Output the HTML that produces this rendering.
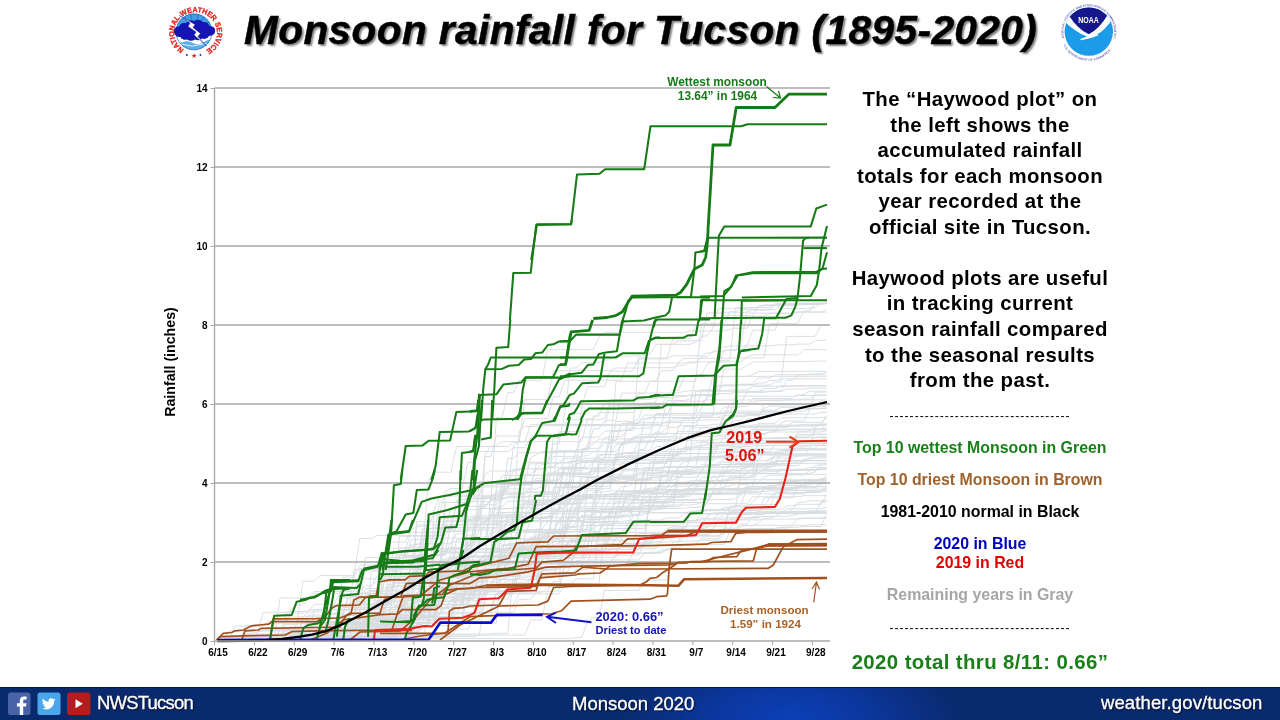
<!DOCTYPE html>
<html><head><meta charset="utf-8">
<style>
html,body{margin:0;padding:0;background:#fff;}
body{width:1280px;height:720px;position:relative;overflow:hidden;font-family:"Liberation Sans",sans-serif;}
#title{position:absolute;left:244px;top:7px;font-size:40.5px;font-weight:bold;font-style:italic;white-space:nowrap;line-height:46px;color:#000;text-shadow:2px 2px 2px rgba(0,0,0,.5);letter-spacing:.45px;-webkit-text-stroke:.5px #000;}
#footer{position:absolute;left:0;top:687px;width:1280px;height:33px;background:radial-gradient(ellipse 170px 70px at 790px 30px,#0b40b6 0%,#0b38a2 40%,#0a2a6e 100%);border-top:1px solid #061a48;box-sizing:border-box;}
.ft{position:absolute;color:#fff;font-size:18.5px;line-height:32px;top:-2px;-webkit-text-stroke:.3px #fff;white-space:nowrap;text-shadow:1px 1px 2px rgba(0,0,0,.8);}
#panel div{position:absolute;left:830px;width:300px;text-align:center;font-weight:bold;white-space:nowrap;}
.p1{font-size:20.4px;line-height:25.5px;color:#000;letter-spacing:.4px;}
.lg{font-size:15.9px;line-height:18px;}
#chart{position:absolute;left:0;top:0;}
</style></head><body>
<div id="title">Monsoon rainfall for Tucson (1895-2020)</div>
<svg id="chart" width="1280" height="687" viewBox="0 0 1280 687" font-family="Liberation Sans, sans-serif">
<g id="gray" stroke="#d7dbe0" stroke-width=".9" fill="none" stroke-linejoin="round">
<path d="M217.446 641L371.2 641L376.9 637.2L376.9 637.2L382.5 625.7L382.5 625.7L388.2 623.8L388.2 623.8L393.9 621.2L393.9 621.2L399.6 617.5L428.1 617.5L433.8 617.5L433.8 617.5L439.5 616.8L450.9 616.8L456.6 597.7L467.9 597.7L473.6 590L479.3 590L485 576.6L496.4 576.6L502.1 513.1L502.1 513.1L507.8 512.4L530.6 512.4L536.3 509.1L553.3 509.1L559 486.1L581.8 486.1L587.5 478L644.4 478L650.1 478L650.1 478L655.8 472.2L667.2 472.2L672.9 471.8L684.3 471.8L690 471.5L690 471.5L695.7 470.1L707 470.1L712.7 470L724.1 470L729.8 470L735.5 470L741.2 465.2L752.6 465.2L758.3 464.6L769.7 464.6L775.4 452.5L775.4 452.5L781.1 452.4L781.1 452.4L786.7 451.2L792.4 451.2L798.1 446.9L803.8 446.9L809.5 445.4L820.9 445.4L826.6 443L826.6 443"/>
<path d="M217.446 641L308.5 641L314.2 609.6L314.2 609.6L319.9 609.6L348.4 609.6L354.1 609.1L376.9 609.1L382.5 564.7L388.2 564.7L393.9 560.1L393.9 560.1L399.6 555.7L399.6 555.7L405.3 555.6L405.3 555.6L411 555.1L433.8 555.1L439.5 552L445.2 552L450.9 552L462.2 552L467.9 546L485 546L490.7 532.3L502.1 532.3L507.8 529.8L524.9 529.8L530.6 529.6L587.5 529.6L593.2 528.9L593.2 528.9L598.9 524.7L604.6 524.7L610.3 524.6L610.3 524.6L616 523.3L633 523.3L638.7 520.3L644.4 520.3L650.1 520.1L661.5 520.1L667.2 518L678.6 518L684.3 513.5L712.7 513.5L718.4 513.4L724.1 513.4L729.8 512.7L752.6 512.7L758.3 511.4L820.9 511.4L826.6 511.1L826.6 511.1"/>
<path d="M217.446 641L285.8 641L291.5 640.6L297.1 640.6L302.8 637.5L308.5 637.5L314.2 630.9L319.9 630.9L325.6 624.6L337 624.6L342.7 624.3L388.2 624.3L393.9 622.7L433.8 622.7L439.5 581.4L445.2 581.4L450.9 561.5L473.6 561.5L479.3 561L541.9 561L547.6 556L547.6 556L553.3 553.8L564.7 553.8L570.4 553.6L610.3 553.6L616 551.7L616 551.7L621.6 546.7L633 546.7L638.7 512.8L638.7 512.8L644.4 512.6L695.7 512.6L701.4 512.2L701.4 512.2L707 510.3L758.3 510.3L764 509.5L781.1 509.5L786.7 505.9L792.4 505.9L798.1 504.3L820.9 504.3L826.6 494.8L826.6 494.8"/>
<path d="M217.446 641L342.7 641L348.4 626.6L348.4 626.6L354.1 626.5L354.1 626.5L359.8 598.5L359.8 598.5L365.5 588.5L376.9 588.5L382.5 588.4L382.5 588.4L388.2 587.4L388.2 587.4L393.9 585.9L422.4 585.9L428.1 583.5L428.1 583.5L433.8 576L553.3 576L559 561.6L559 561.6L564.7 552.2L576.1 552.2L581.8 448.6L587.5 448.6L593.2 416L598.9 416L604.6 403.2L633 403.2L638.7 393.2L644.4 393.2L650.1 381L655.8 381L661.5 370.7L672.9 370.7L678.6 361.9L678.6 361.9L684.3 358.4L724.1 358.4L729.8 358L758.3 358L764 357.9L764 357.9L769.7 323.5L792.4 323.5L798.1 323L798.1 323L803.8 310.9L809.5 310.9L815.2 303.3L826.6 303.3"/>
<path d="M217.446 641L365.5 641L371.2 640.3L388.2 640.3L393.9 634.4L393.9 634.4L399.6 612.9L399.6 612.9L405.3 589.7L405.3 589.7L411 575.9L416.7 575.9L422.4 530.4L428.1 530.4L433.8 527.8L473.6 527.8L479.3 526.4L479.3 526.4L485 520.2L490.7 520.2L496.4 517.4L524.9 517.4L530.6 515.7L536.3 515.7L541.9 511L559 511L564.7 501.6L564.7 501.6L570.4 495.9L604.6 495.9L610.3 493.9L621.6 493.9L627.3 480.1L667.2 480.1L672.9 453.7L707 453.7L712.7 452L724.1 452L729.8 451.9L729.8 451.9L735.5 451.9L752.6 451.9L758.3 445.5L792.4 445.5L798.1 445.4L826.6 445.4"/>
<path d="M217.446 641L234.5 641L240.2 638.8L251.6 638.8L257.3 638.5L291.5 638.5L297.1 637.2L297.1 637.2L302.8 616.8L319.9 616.8L325.6 614.3L354.1 614.3L359.8 593.5L388.2 593.5L393.9 563.6L411 563.6L416.7 548.6L507.8 548.6L513.5 548.2L541.9 548.2L547.6 544.7L547.6 544.7L553.3 510.1L604.6 510.1L610.3 499.8L672.9 499.8L678.6 466.3L678.6 466.3L684.3 461.4L690 461.4L695.7 391.2L775.4 391.2L781.1 390.7L781.1 390.7L786.7 380.3L792.4 380.3L798.1 374.7L803.8 374.7L809.5 374L820.9 374L826.6 372.2L826.6 372.2"/>
<path d="M217.446 641L342.7 641L348.4 615.5L359.8 615.5L365.5 557.6L422.4 557.6L428.1 481.9L428.1 481.9L433.8 472.2L450.9 472.2L456.6 446.5L507.8 446.5L513.5 442.4L519.2 442.4L524.9 399.6L547.6 399.6L553.3 370.7L610.3 370.7L616 368L638.7 368L644.4 367.7L672.9 367.7L678.6 365.2L684.3 365.2L690 361.8L741.2 361.8L746.9 356.7L746.9 356.7L752.6 354.8L792.4 354.8L798.1 354.8L798.1 354.8L803.8 349.7L826.6 349.7"/>
<path d="M217.446 641L308.5 641L314.2 637.9L348.4 637.9L354.1 637.2L354.1 637.2L359.8 633.3L365.5 633.3L371.2 629.6L393.9 629.6L399.6 623.3L405.3 623.3L411 623.3L428.1 623.3L433.8 583.2L439.5 583.2L445.2 577.8L456.6 577.8L462.2 574.3L462.2 574.3L467.9 558.6L467.9 558.6L473.6 552L519.2 552L524.9 547.2L564.7 547.2L570.4 539.2L604.6 539.2L610.3 539.1L616 539.1L621.6 535.8L621.6 535.8L627.3 533.8L627.3 533.8L633 515.2L638.7 515.2L644.4 502.2L650.1 502.2L655.8 501.4L667.2 501.4L672.9 499.7L707 499.7L712.7 499.6L729.8 499.6L735.5 498.6L735.5 498.6L741.2 494.9L741.2 494.9L746.9 489.5L746.9 489.5L752.6 488.5L769.7 488.5L775.4 488L786.7 488L792.4 487.8L792.4 487.8L798.1 486.3L803.8 486.3L809.5 481.1L809.5 481.1L815.2 481L815.2 481L820.9 478.5L826.6 478.5"/>
<path d="M217.446 641L342.7 641L348.4 621.4L405.3 621.4L411 612.7L416.7 612.7L422.4 609.6L428.1 609.6L433.8 608.4L445.2 608.4L450.9 599.4L473.6 599.4L479.3 570.5L479.3 570.5L485 569.1L485 569.1L490.7 551.6L496.4 551.6L502.1 550.2L513.5 550.2L519.2 549.7L604.6 549.7L610.3 532.8L627.3 532.8L633 532.4L644.4 532.4L650.1 532.2L690 532.2L695.7 531L701.4 531L707 529.6L712.7 529.6L718.4 519.5L718.4 519.5L724.1 517.7L735.5 517.7L741.2 514.7L752.6 514.7L758.3 514.4L764 514.4L769.7 512.4L781.1 512.4L786.7 508.8L815.2 508.8L820.9 508.7L820.9 508.7L826.6 507.3L826.6 507.3"/>
<path d="M217.446 641L405.3 641L411 627.1L411 627.1L416.7 624.5L422.4 624.5L428.1 619.5L433.8 619.5L439.5 613.3L439.5 613.3L445.2 608.7L445.2 608.7L450.9 600L450.9 600L456.6 600L462.2 600L467.9 587.3L467.9 587.3L473.6 565L490.7 565L496.4 563.7L519.2 563.7L524.9 558.9L524.9 558.9L530.6 545.4L536.3 545.4L541.9 541.7L553.3 541.7L559 540.6L598.9 540.6L604.6 539.9L633 539.9L638.7 536.8L690 536.8L695.7 536.8L718.4 536.8L724.1 529.8L735.5 529.8L741.2 525.7L752.6 525.7L758.3 523L758.3 523L764 518.2L769.7 518.2L775.4 516.3L786.7 516.3L792.4 515.5L792.4 515.5L798.1 513.9L803.8 513.9L809.5 512.8L815.2 512.8L820.9 502L826.6 502"/>
<path d="M217.446 641L382.5 641L388.2 638.8L393.9 638.8L399.6 638.6L570.4 638.6L576.1 637.5L581.8 637.5L587.5 621.3L587.5 621.3L593.2 617.3L598.9 617.3L604.6 590.4L638.7 590.4L644.4 580.1L655.8 580.1L661.5 579.9L667.2 579.9L672.9 542.2L678.6 542.2L684.3 522.7L684.3 522.7L690 522.6L724.1 522.6L729.8 511.7L735.5 511.7L741.2 510.1L758.3 510.1L764 508.4L769.7 508.4L775.4 493L798.1 493L803.8 492.5L803.8 492.5L809.5 490.7L826.6 490.7"/>
<path d="M217.446 641L268.7 641L274.4 634.1L319.9 634.1L325.6 631L331.3 631L337 616.7L342.7 616.7L348.4 596.1L382.5 596.1L388.2 595L422.4 595L428.1 591L490.7 591L496.4 589.6L496.4 589.6L502.1 579.6L536.3 579.6L541.9 569.9L553.3 569.9L559 565.9L564.7 565.9L570.4 557.3L616 557.3L621.6 535.6L655.8 535.6L661.5 534L667.2 534L672.9 528.2L684.3 528.2L690 520.5L695.7 520.5L701.4 514.1L718.4 514.1L724.1 513.5L826.6 513.5"/>
<path d="M217.446 641L393.9 641L399.6 638.4L405.3 638.4L411 633.1L411 633.1L416.7 632.4L416.7 632.4L422.4 609.4L428.1 609.4L433.8 591.7L439.5 591.7L445.2 586.7L450.9 586.7L456.6 566.5L462.2 566.5L467.9 544.6L473.6 544.6L479.3 527.9L502.1 527.9L507.8 523L513.5 523L519.2 508.5L519.2 508.5L524.9 504.7L547.6 504.7L553.3 503.9L559 503.9L564.7 503.1L576.1 503.1L581.8 487.4L581.8 487.4L587.5 481.2L587.5 481.2L593.2 479.5L616 479.5L621.6 470.8L695.7 470.8L701.4 464.8L718.4 464.8L724.1 464.5L764 464.5L769.7 462.4L775.4 462.4L781.1 460.8L826.6 460.8"/>
<path d="M217.446 641L359.8 641L365.5 640.6L405.3 640.6L411 615.3L411 615.3L416.7 615.2L433.8 615.2L439.5 599.6L439.5 599.6L445.2 588.1L456.6 588.1L462.2 562.7L462.2 562.7L467.9 542.2L467.9 542.2L473.6 537.1L496.4 537.1L502.1 531.5L507.8 531.5L513.5 530.2L513.5 530.2L519.2 518.7L519.2 518.7L524.9 517.1L541.9 517.1L547.6 516.5L553.3 516.5L559 510.6L559 510.6L564.7 484.4L570.4 484.4L576.1 464.1L576.1 464.1L581.8 462.4L587.5 462.4L593.2 462.2L610.3 462.2L616 461.3L616 461.3L621.6 459.4L644.4 459.4L650.1 459.4L672.9 459.4L678.6 448.7L690 448.7L695.7 446.8L701.4 446.8L707 443.6L712.7 443.6L718.4 442.6L729.8 442.6L735.5 440.2L735.5 440.2L741.2 439.3L741.2 439.3L746.9 438.6L752.6 438.6L758.3 438.4L769.7 438.4L775.4 437.6L815.2 437.6L820.9 437.6L826.6 437.6"/>
<path d="M217.446 641L354.1 641L359.8 630.4L382.5 630.4L388.2 622.1L405.3 622.1L411 603.9L416.7 603.9L422.4 576.9L450.9 576.9L456.6 569.7L513.5 569.7L519.2 562.8L519.2 562.8L524.9 561.4L547.6 561.4L553.3 541.5L593.2 541.5L598.9 464.5L598.9 464.5L604.6 460.8L604.6 460.8L610.3 459.7L627.3 459.7L633 458.6L638.7 458.6L644.4 455.2L650.1 455.2L655.8 453.6L672.9 453.6L678.6 425.7L684.3 425.7L690 425.6L707 425.6L712.7 424.4L712.7 424.4L718.4 424.2L729.8 424.2L735.5 420.3L741.2 420.3L746.9 414.4L786.7 414.4L792.4 414.1L803.8 414.1L809.5 414L815.2 414L820.9 412.5L826.6 412.5"/>
<path d="M217.446 641L359.8 641L365.5 634.9L365.5 634.9L371.2 630.3L388.2 630.3L393.9 575.9L393.9 575.9L399.6 561.8L405.3 561.8L411 539.4L422.4 539.4L428.1 538.7L433.8 538.7L439.5 502.4L456.6 502.4L462.2 495.9L490.7 495.9L496.4 493.4L524.9 493.4L530.6 492.3L553.3 492.3L559 468.7L576.1 468.7L581.8 406.4L581.8 406.4L587.5 386.7L604.6 386.7L610.3 371.1L633 371.1L638.7 358L661.5 358L667.2 357.9L667.2 357.9L672.9 338.7L690 338.7L695.7 325.4L718.4 325.4L724.1 315.5L752.6 315.5L758.3 305.7L792.4 305.7L798.1 304.2L820.9 304.2L826.6 303.7L826.6 303.7"/>
<path d="M217.446 641L319.9 641L325.6 638.2L354.1 638.2L359.8 609.1L376.9 609.1L382.5 602.5L388.2 602.5L393.9 583L411 583L416.7 580.6L428.1 580.6L433.8 563.4L445.2 563.4L450.9 558.8L467.9 558.8L473.6 525L507.8 525L513.5 524.5L513.5 524.5L519.2 504.2L576.1 504.2L581.8 503.1L667.2 503.1L672.9 500.4L695.7 500.4L701.4 498.3L701.4 498.3L707 498L707 498L712.7 492.2L735.5 492.2L741.2 491.6L764 491.6L769.7 491L769.7 491L775.4 490.9L781.1 490.9L786.7 490.4L820.9 490.4L826.6 489.4L826.6 489.4"/>
<path d="M217.446 641L240.2 641L245.9 635.1L314.2 635.1L319.9 634.5L319.9 634.5L325.6 632.6L342.7 632.6L348.4 626L382.5 626L388.2 624.7L405.3 624.7L411 617.7L445.2 617.7L450.9 611.2L450.9 611.2L456.6 595.3L479.3 595.3L485 565.1L507.8 565.1L513.5 550.8L519.2 550.8L524.9 540.2L553.3 540.2L559 538.9L564.7 538.9L570.4 517.2L570.4 517.2L576.1 515.5L576.1 515.5L581.8 494.5L627.3 494.5L633 492.8L644.4 492.8L650.1 491.1L678.6 491.1L684.3 490.9L690 490.9L695.7 486.2L707 486.2L712.7 476.2L724.1 476.2L729.8 475.8L746.9 475.8L752.6 475.7L752.6 475.7L758.3 434.6L764 434.6L769.7 431.9L775.4 431.9L781.1 422.6L781.1 422.6L786.7 420.9L803.8 420.9L809.5 410.2L809.5 410.2L815.2 392.1L826.6 392.1"/>
<path d="M217.446 641L348.4 641L354.1 638.2L354.1 638.2L359.8 636.8L376.9 636.8L382.5 634L399.6 634L405.3 633.6L416.7 633.6L422.4 626.1L433.8 626.1L439.5 586.9L450.9 586.9L456.6 582.9L479.3 582.9L485 574.6L490.7 574.6L496.4 561.5L519.2 561.5L524.9 560.7L530.6 560.7L536.3 538.6L536.3 538.6L541.9 533.3L553.3 533.3L559 532.5L564.7 532.5L570.4 532.4L570.4 532.4L576.1 531.5L581.8 531.5L587.5 528L587.5 528L593.2 522.8L598.9 522.8L604.6 521.7L616 521.7L621.6 509.8L621.6 509.8L627.3 508.7L633 508.7L638.7 507.1L638.7 507.1L644.4 506.9L661.5 506.9L667.2 494.6L712.7 494.6L718.4 494.5L724.1 494.5L729.8 490L741.2 490L746.9 489.1L758.3 489.1L764 488.1L786.7 488.1L792.4 487.2L792.4 487.2L798.1 487L815.2 487L820.9 483.6L820.9 483.6L826.6 475.3L826.6 475.3"/>
<path d="M217.446 641L228.8 641L234.5 640L240.2 640L245.9 635.9L268.7 635.9L274.4 635.1L314.2 635.1L319.9 629.8L331.3 629.8L337 617.5L337 617.5L342.7 615.6L348.4 615.6L354.1 603.9L388.2 603.9L393.9 599.1L439.5 599.1L445.2 577.3L479.3 577.3L485 568.6L490.7 568.6L496.4 539.5L507.8 539.5L513.5 539.1L547.6 539.1L553.3 511.8L616 511.8L621.6 510.5L633 510.5L638.7 449.5L644.4 449.5L650.1 438.6L650.1 438.6L655.8 432.1L661.5 432.1L667.2 427.4L678.6 427.4L684.3 418.5L695.7 418.5L701.4 408.5L701.4 408.5L707 396.2L712.7 396.2L718.4 385.1L769.7 385.1L775.4 381.9L781.1 381.9L786.7 336.4L815.2 336.4L820.9 325.5L826.6 325.5"/>
<path d="M217.446 641L342.7 641L348.4 637.2L365.5 637.2L371.2 635.4L388.2 635.4L393.9 633.5L393.9 633.5L399.6 617.7L399.6 617.7L405.3 611.9L405.3 611.9L411 611.3L416.7 611.3L422.4 605.2L428.1 605.2L433.8 551.1L450.9 551.1L456.6 522L456.6 522L462.2 520.7L467.9 520.7L473.6 519L473.6 519L479.3 518.2L490.7 518.2L496.4 506.6L502.1 506.6L507.8 501.2L530.6 501.2L536.3 500.9L553.3 500.9L559 473.4L559 473.4L564.7 473.1L570.4 473.1L576.1 449.6L581.8 449.6L587.5 449.5L587.5 449.5L593.2 443.7L593.2 443.7L598.9 439L633 439L638.7 436.8L650.1 436.8L655.8 433.4L690 433.4L695.7 433.1L718.4 433.1L724.1 415.5L735.5 415.5L741.2 415.2L741.2 415.2L746.9 414.9L758.3 414.9L764 411.9L786.7 411.9L792.4 411.9L792.4 411.9L798.1 408.6L803.8 408.6L809.5 408.4L826.6 408.4"/>
<path d="M217.446 641L365.5 641L371.2 639.1L382.5 639.1L388.2 622.6L388.2 622.6L393.9 582.8L462.2 582.8L467.9 550.2L467.9 550.2L473.6 541.1L473.6 541.1L479.3 481.4L553.3 481.4L559 431.7L576.1 431.7L581.8 425.1L604.6 425.1L610.3 405.9L690 405.9L695.7 375.2L701.4 375.2L707 364.2L707 364.2L712.7 361.7L718.4 361.7L724.1 360.2L729.8 360.2L735.5 307.8L746.9 307.8L752.6 307.6L769.7 307.6L775.4 303.3L826.6 303.3"/>
<path d="M217.446 641L393.9 641L399.6 629.8L405.3 629.8L411 609.4L411 609.4L416.7 592.1L428.1 592.1L433.8 591.8L433.8 591.8L439.5 587.2L456.6 587.2L462.2 583.2L462.2 583.2L467.9 581.4L467.9 581.4L473.6 523.9L479.3 523.9L485 523.8L502.1 523.8L507.8 517.3L513.5 517.3L519.2 500.3L547.6 500.3L553.3 438.2L553.3 438.2L559 437.3L559 437.3L564.7 432.7L564.7 432.7L570.4 419.8L587.5 419.8L593.2 419.7L598.9 419.7L604.6 418.4L604.6 418.4L610.3 399.9L610.3 399.9L616 399.4L650.1 399.4L655.8 397.5L672.9 397.5L678.6 396.5L684.3 396.5L690 394.9L690 394.9L695.7 394.8L695.7 394.8L701.4 394.7L718.4 394.7L724.1 369.2L741.2 369.2L746.9 365.3L746.9 365.3L752.6 361.9L769.7 361.9L775.4 361.5L809.5 361.5L815.2 361.1L826.6 361.1"/>
<path d="M217.446 641L314.2 641L319.9 640.1L319.9 640.1L325.6 639.1L325.6 639.1L331.3 635.4L399.6 635.4L405.3 632.5L411 632.5L416.7 626.8L416.7 626.8L422.4 532.8L439.5 532.8L445.2 518.1L462.2 518.1L467.9 486.9L507.8 486.9L513.5 485.1L530.6 485.1L536.3 480.6L536.3 480.6L541.9 480.2L559 480.2L564.7 467.6L570.4 467.6L576.1 464.2L576.1 464.2L581.8 462.1L587.5 462.1L593.2 462.1L621.6 462.1L627.3 461.3L633 461.3L638.7 460L695.7 460L701.4 458.5L707 458.5L712.7 446.9L712.7 446.9L718.4 442.5L724.1 442.5L729.8 441.8L729.8 441.8L735.5 440.8L758.3 440.8L764 440.5L792.4 440.5L798.1 431.8L803.8 431.8L809.5 430.9L809.5 430.9L815.2 427.3L815.2 427.3L820.9 424.1L826.6 424.1"/>
<path d="M217.446 641L365.5 641L371.2 640.3L371.2 640.3L376.9 639.1L382.5 639.1L388.2 637.1L433.8 637.1L439.5 622.8L439.5 622.8L445.2 618.1L450.9 618.1L456.6 613.8L479.3 613.8L485 585.9L490.7 585.9L496.4 584L502.1 584L507.8 581.2L513.5 581.2L519.2 577.7L524.9 577.7L530.6 576.1L530.6 576.1L536.3 575.9L559 575.9L564.7 575.8L564.7 575.8L570.4 567.2L570.4 567.2L576.1 560.6L581.8 560.6L587.5 545.6L604.6 545.6L610.3 508.9L627.3 508.9L633 507.4L638.7 507.4L644.4 501.6L650.1 501.6L655.8 486.2L690 486.2L695.7 485.7L695.7 485.7L701.4 481.7L712.7 481.7L718.4 478.5L718.4 478.5L724.1 466.4L769.7 466.4L775.4 461L781.1 461L786.7 460.6L826.6 460.6"/>
<path d="M217.446 641L348.4 641L354.1 618.9L382.5 618.9L388.2 591L405.3 591L411 588.8L450.9 588.8L456.6 584.5L456.6 584.5L462.2 558.8L462.2 558.8L467.9 555.8L473.6 555.8L479.3 540.2L485 540.2L490.7 508.9L502.1 508.9L507.8 508.6L513.5 508.6L519.2 508.4L524.9 508.4L530.6 505.3L541.9 505.3L547.6 501.6L547.6 501.6L553.3 499.2L581.8 499.2L587.5 483.5L587.5 483.5L593.2 462.5L593.2 462.5L598.9 454.8L621.6 454.8L627.3 452.5L633 452.5L638.7 450.8L650.1 450.8L655.8 437L684.3 437L690 437L690 437L695.7 432.5L695.7 432.5L701.4 432L701.4 432L707 431.9L712.7 431.9L718.4 431.8L718.4 431.8L724.1 429.8L735.5 429.8L741.2 427.4L746.9 427.4L752.6 427.3L764 427.3L769.7 427.3L786.7 427.3L792.4 426.1L815.2 426.1L820.9 425.1L820.9 425.1L826.6 415.4L826.6 415.4"/>
<path d="M217.446 641L297.1 641L302.8 640.7L308.5 640.7L314.2 640.7L354.1 640.7L359.8 624.5L405.3 624.5L411 622.8L433.8 622.8L439.5 617.6L456.6 617.6L462.2 616.3L462.2 616.3L467.9 614.5L467.9 614.5L473.6 613.1L485 613.1L490.7 609.1L490.7 609.1L496.4 593L536.3 593L541.9 570.8L547.6 570.8L553.3 568L559 568L564.7 563.4L581.8 563.4L587.5 560L638.7 560L644.4 553.2L655.8 553.2L661.5 550L672.9 550L678.6 545.3L690 545.3L695.7 543.9L695.7 543.9L701.4 538.9L718.4 538.9L724.1 528.2L735.5 528.2L741.2 523.9L746.9 523.9L752.6 516.6L758.3 516.6L764 497.6L769.7 497.6L775.4 492.5L820.9 492.5L826.6 486.2L826.6 486.2"/>
<path d="M217.446 641L411 641L416.7 634.1L490.7 634.1L496.4 633.3L507.8 633.3L513.5 573.1L524.9 573.1L530.6 563.6L559 563.6L564.7 563L610.3 563L616 554.7L616 554.7L621.6 553.5L627.3 553.5L633 553L644.4 553L650.1 552.3L661.5 552.3L667.2 548.7L672.9 548.7L678.6 547.9L678.6 547.9L684.3 544.4L724.1 544.4L729.8 531.6L741.2 531.6L746.9 530.4L769.7 530.4L775.4 528L786.7 528L792.4 524.7L792.4 524.7L798.1 518.4L826.6 518.4"/>
<path d="M217.446 641L359.8 641L365.5 594.2L371.2 594.2L376.9 590.9L376.9 590.9L382.5 580L388.2 580L393.9 573.2L393.9 573.2L399.6 555.5L428.1 555.5L433.8 554.5L439.5 554.5L445.2 553.1L456.6 553.1L462.2 552.5L462.2 552.5L467.9 509.8L479.3 509.8L485 507.5L485 507.5L490.7 500.5L490.7 500.5L496.4 499.7L502.1 499.7L507.8 496.4L547.6 496.4L553.3 496.3L564.7 496.3L570.4 489.2L581.8 489.2L587.5 488.5L598.9 488.5L604.6 481.4L604.6 481.4L610.3 479.9L610.3 479.9L616 478.7L616 478.7L621.6 475L633 475L638.7 473.1L661.5 473.1L667.2 472.1L690 472.1L695.7 472.1L718.4 472.1L724.1 472L729.8 472L735.5 464.3L735.5 464.3L741.2 463.6L786.7 463.6L792.4 463.5L803.8 463.5L809.5 463.3L826.6 463.3"/>
<path d="M217.446 641L359.8 641L365.5 621.7L376.9 621.7L382.5 617.6L428.1 617.6L433.8 617.4L462.2 617.4L467.9 598.5L467.9 598.5L473.6 597.8L479.3 597.8L485 584.2L496.4 584.2L502.1 517L519.2 517L524.9 516.3L524.9 516.3L530.6 508.2L541.9 508.2L547.6 473.3L553.3 473.3L559 468.9L661.5 468.9L667.2 467.1L729.8 467.1L735.5 447.5L741.2 447.5L746.9 444.2L758.3 444.2L764 442.8L786.7 442.8L792.4 439.6L792.4 439.6L798.1 434.5L826.6 434.5"/>
<path d="M217.446 641L382.5 641L388.2 638.4L393.9 638.4L399.6 612L399.6 612L405.3 598.6L411 598.6L416.7 575.9L439.5 575.9L445.2 573.4L450.9 573.4L456.6 572.2L467.9 572.2L473.6 570.3L473.6 570.3L479.3 563L479.3 563L485 552.7L490.7 552.7L496.4 552.7L496.4 552.7L502.1 539.3L541.9 539.3L547.6 531.4L559 531.4L564.7 526.4L576.1 526.4L581.8 515.3L593.2 515.3L598.9 456.1L598.9 456.1L604.6 454.1L610.3 454.1L616 421.4L633 421.4L638.7 418.4L638.7 418.4L644.4 403.1L644.4 403.1L650.1 402.6L655.8 402.6L661.5 344.4L672.9 344.4L678.6 340.9L701.4 340.9L707 312.9L741.2 312.9L746.9 312.1L746.9 312.1L752.6 310.1L769.7 310.1L775.4 304.7L781.1 304.7L786.7 304.2L792.4 304.2L798.1 303.3L826.6 303.3"/>
<path d="M217.446 641L257.3 641L263 637.6L297.1 637.6L302.8 627.3L302.8 627.3L308.5 623L371.2 623L376.9 616.8L467.9 616.8L473.6 613L490.7 613L496.4 593.4L524.9 593.4L530.6 577L536.3 577L541.9 564.2L581.8 564.2L587.5 564L627.3 564L633 553.2L661.5 553.2L667.2 549L672.9 549L678.6 542.5L678.6 542.5L684.3 536.1L684.3 536.1L690 511.3L695.7 511.3L701.4 510.7L718.4 510.7L724.1 507.7L735.5 507.7L741.2 468.4L746.9 468.4L752.6 461.6L752.6 461.6L758.3 460.3L758.3 460.3L764 453.8L826.6 453.8"/>
<path d="M217.446 641L280.1 641L285.8 613L302.8 613L308.5 610.1L319.9 610.1L325.6 609.3L354.1 609.3L359.8 602.7L365.5 602.7L371.2 590.4L393.9 590.4L399.6 554.3L405.3 554.3L411 544.7L416.7 544.7L422.4 541.3L422.4 541.3L428.1 538.2L462.2 538.2L467.9 535.8L473.6 535.8L479.3 504.8L496.4 504.8L502.1 483.8L524.9 483.8L530.6 457.5L530.6 457.5L536.3 454.6L536.3 454.6L541.9 451.6L610.3 451.6L616 381.3L695.7 381.3L701.4 323.7L718.4 323.7L724.1 323.3L724.1 323.3L729.8 311.4L735.5 311.4L741.2 309.6L775.4 309.6L781.1 304.4L815.2 304.4L820.9 303.3L826.6 303.3"/>
<path d="M217.446 641L337 641L342.7 636.5L393.9 636.5L399.6 631.1L399.6 631.1L405.3 629.5L405.3 629.5L411 615.1L422.4 615.1L428.1 593.1L462.2 593.1L467.9 593L479.3 593L485 587.3L507.8 587.3L513.5 584.2L513.5 584.2L519.2 582.3L524.9 582.3L530.6 579.4L530.6 579.4L536.3 577.9L536.3 577.9L541.9 572.1L541.9 572.1L547.6 567.6L570.4 567.6L576.1 545.6L576.1 545.6L581.8 522.5L598.9 522.5L604.6 494.4L610.3 494.4L616 493.1L616 493.1L621.6 486.6L627.3 486.6L633 483.5L633 483.5L638.7 480L650.1 480L655.8 455.5L661.5 455.5L667.2 455.4L672.9 455.4L678.6 454.3L678.6 454.3L684.3 453.5L718.4 453.5L724.1 452L752.6 452L758.3 451.8L769.7 451.8L775.4 443.8L775.4 443.8L781.1 443.6L786.7 443.6L792.4 443.2L826.6 443.2"/>
<path d="M217.446 641L314.2 641L319.9 641L337 641L342.7 615.4L348.4 615.4L354.1 569.4L411 569.4L416.7 521.7L541.9 521.7L547.6 521.5L564.7 521.5L570.4 516.7L570.4 516.7L576.1 506.8L678.6 506.8L684.3 502.5L701.4 502.5L707 502.2L707 502.2L712.7 493.4L735.5 493.4L741.2 492.3L758.3 492.3L764 489.9L764 489.9L769.7 489.6L792.4 489.6L798.1 486.9L798.1 486.9L803.8 486.6L815.2 486.6L820.9 486.5L826.6 486.5"/>
<path d="M217.446 641L291.5 641L297.1 639.6L302.8 639.6L308.5 637.5L319.9 637.5L325.6 624.7L359.8 624.7L365.5 620.7L365.5 620.7L371.2 611.6L371.2 611.6L376.9 601.8L382.5 601.8L388.2 599.2L388.2 599.2L393.9 597.6L393.9 597.6L399.6 596.5L399.6 596.5L405.3 591.6L405.3 591.6L411 584L411 584L416.7 580.7L439.5 580.7L445.2 558L450.9 558L456.6 556.9L496.4 556.9L502.1 491.9L559 491.9L564.7 486.9L581.8 486.9L587.5 486.4L610.3 486.4L616 458.5L616 458.5L621.6 443L621.6 443L627.3 442.8L650.1 442.8L655.8 439.5L667.2 439.5L672.9 438.9L690 438.9L695.7 436.7L695.7 436.7L701.4 436.3L712.7 436.3L718.4 436.2L724.1 436.2L729.8 432.7L735.5 432.7L741.2 432L752.6 432L758.3 430.3L781.1 430.3L786.7 429.8L826.6 429.8"/>
<path d="M217.446 641L263 641L268.7 640.7L268.7 640.7L274.4 640.5L285.8 640.5L291.5 635.7L302.8 635.7L308.5 634.6L331.3 634.6L337 624.3L337 624.3L342.7 623.6L411 623.6L416.7 617.5L422.4 617.5L428.1 603.3L428.1 603.3L433.8 573.6L439.5 573.6L445.2 565.4L479.3 565.4L485 562.5L490.7 562.5L496.4 562.1L496.4 562.1L502.1 555.7L519.2 555.7L524.9 555.3L524.9 555.3L530.6 552.3L530.6 552.3L536.3 551L536.3 551L541.9 549.6L553.3 549.6L559 549.5L559 549.5L564.7 548.9L610.3 548.9L616 548.5L616 548.5L621.6 547.4L638.7 547.4L644.4 546.6L644.4 546.6L650.1 493.1L661.5 493.1L667.2 491.3L690 491.3L695.7 490.3L707 490.3L712.7 490.2L718.4 490.2L724.1 490.1L752.6 490.1L758.3 489.5L758.3 489.5L764 487.3L764 487.3L769.7 485.8L775.4 485.8L781.1 484L781.1 484L786.7 483.8L826.6 483.8"/>
<path d="M217.446 641L371.2 641L376.9 623.4L376.9 623.4L382.5 607.5L399.6 607.5L405.3 606.4L405.3 606.4L411 563.6L416.7 563.6L422.4 562.7L445.2 562.7L450.9 557L541.9 557L547.6 555.5L547.6 555.5L553.3 487.6L576.1 487.6L581.8 486.2L593.2 486.2L598.9 483.3L604.6 483.3L610.3 478.2L633 478.2L638.7 450.9L638.7 450.9L644.4 418.7L644.4 418.7L650.1 417.5L718.4 417.5L724.1 411.2L803.8 411.2L809.5 409.1L809.5 409.1L815.2 407.4L815.2 407.4L820.9 400.9L826.6 400.9"/>
<path d="M217.446 641L268.7 641L274.4 635.7L325.6 635.7L331.3 630.8L365.5 630.8L371.2 629.1L376.9 629.1L382.5 628.9L405.3 628.9L411 608.5L428.1 608.5L433.8 604.4L450.9 604.4L456.6 589.1L496.4 589.1L502.1 583.7L513.5 583.7L519.2 573.3L519.2 573.3L524.9 565L536.3 565L541.9 509L541.9 509L547.6 478.1L547.6 478.1L553.3 473L587.5 473L593.2 468.5L598.9 468.5L604.6 467.2L610.3 467.2L616 457.1L616 457.1L621.6 456.8L638.7 456.8L644.4 455.4L678.6 455.4L684.3 446.8L684.3 446.8L690 446.8L690 446.8L695.7 442.4L735.5 442.4L741.2 440.4L758.3 440.4L764 438.6L781.1 438.6L786.7 438L792.4 438L798.1 437.8L809.5 437.8L815.2 429.2L826.6 429.2"/>
<path d="M217.446 641L285.8 641L291.5 638.4L302.8 638.4L308.5 615.1L325.6 615.1L331.3 609.7L331.3 609.7L337 598.5L337 598.5L342.7 589.9L359.8 589.9L365.5 586L365.5 586L371.2 585.8L371.2 585.8L376.9 581.5L388.2 581.5L393.9 580.6L422.4 580.6L428.1 575.1L439.5 575.1L445.2 572.2L450.9 572.2L456.6 566.9L479.3 566.9L485 565.7L502.1 565.7L507.8 554.7L507.8 554.7L513.5 551L536.3 551L541.9 546.4L541.9 546.4L547.6 546.1L553.3 546.1L559 541.9L581.8 541.9L587.5 537.3L610.3 537.3L616 511.3L650.1 511.3L655.8 508.5L678.6 508.5L684.3 508.2L684.3 508.2L690 507.5L695.7 507.5L701.4 506.7L701.4 506.7L707 503.7L746.9 503.7L752.6 496.7L758.3 496.7L764 487L775.4 487L781.1 480.1L781.1 480.1L786.7 474.5L803.8 474.5L809.5 470.7L809.5 470.7L815.2 465.1L826.6 465.1"/>
<path d="M217.446 641L319.9 641L325.6 626.1L337 626.1L342.7 622.7L342.7 622.7L348.4 620L365.5 620L371.2 616.8L376.9 616.8L382.5 616.8L382.5 616.8L388.2 598.9L393.9 598.9L399.6 596.5L399.6 596.5L405.3 586.5L428.1 586.5L433.8 577.4L433.8 577.4L439.5 573.3L450.9 573.3L456.6 557.1L473.6 557.1L479.3 549.8L536.3 549.8L541.9 547.6L587.5 547.6L593.2 522.4L604.6 522.4L610.3 521.4L621.6 521.4L627.3 520.7L695.7 520.7L701.4 519.9L741.2 519.9L746.9 518.1L758.3 518.1L764 513.2L803.8 513.2L809.5 512.4L820.9 512.4L826.6 512L826.6 512"/>
<path d="M217.446 641L319.9 641L325.6 632.1L342.7 632.1L348.4 630.9L354.1 630.9L359.8 629.7L359.8 629.7L365.5 626.5L428.1 626.5L433.8 551.3L445.2 551.3L450.9 547.3L462.2 547.3L467.9 543.5L473.6 543.5L479.3 508.4L513.5 508.4L519.2 430.6L519.2 430.6L524.9 426.5L536.3 426.5L541.9 425.7L667.2 425.7L672.9 418.7L690 418.7L695.7 412.9L786.7 412.9L792.4 412.3L792.4 412.3L798.1 408.7L820.9 408.7L826.6 407.9L826.6 407.9"/>
<path d="M217.446 641L399.6 641L405.3 611L411 611L416.7 610.3L422.4 610.3L428.1 598L473.6 598L479.3 558L479.3 558L485 556.7L490.7 556.7L496.4 555.9L524.9 555.9L530.6 545.1L536.3 545.1L541.9 521.5L604.6 521.5L610.3 513.2L621.6 513.2L627.3 491.8L650.1 491.8L655.8 489.7L684.3 489.7L690 488.5L735.5 488.5L741.2 488.4L786.7 488.4L792.4 488L798.1 488L803.8 481.2L815.2 481.2L820.9 481.1L826.6 481.1"/>
<path d="M217.446 641L319.9 641L325.6 636.4L359.8 636.4L365.5 620.8L365.5 620.8L371.2 616.9L371.2 616.9L376.9 615.9L382.5 615.9L388.2 584.4L393.9 584.4L399.6 536.3L422.4 536.3L428.1 536.2L439.5 536.2L445.2 520.2L467.9 520.2L473.6 515.9L496.4 515.9L502.1 515.6L507.8 515.6L513.5 514.6L519.2 514.6L524.9 513.5L530.6 513.5L536.3 499.9L547.6 499.9L553.3 498.6L559 498.6L564.7 498.5L627.3 498.5L633 497.7L638.7 497.7L644.4 489L655.8 489L661.5 486.5L672.9 486.5L678.6 482.7L684.3 482.7L690 481L690 481L695.7 480.6L701.4 480.6L707 480.6L718.4 480.6L724.1 479.9L729.8 479.9L735.5 479.8L798.1 479.8L803.8 479.4L820.9 479.4L826.6 477.7L826.6 477.7"/>
<path d="M217.446 641L422.4 641L428.1 616.8L433.8 616.8L439.5 560.1L485 560.1L490.7 555.6L502.1 555.6L507.8 543.5L524.9 543.5L530.6 537.2L559 537.2L564.7 520.7L576.1 520.7L581.8 516.9L621.6 516.9L627.3 508.3L627.3 508.3L633 500.2L650.1 500.2L655.8 500.2L655.8 500.2L661.5 496.5L672.9 496.5L678.6 496.2L690 496.2L695.7 488.8L712.7 488.8L718.4 481.1L724.1 481.1L729.8 477L741.2 477L746.9 472.8L746.9 472.8L752.6 468.9L764 468.9L769.7 467.6L769.7 467.6L775.4 465.7L798.1 465.7L803.8 459L809.5 459L815.2 456.7L826.6 456.7"/>
<path d="M217.446 641L240.2 641L245.9 633.2L251.6 633.2L257.3 632L257.3 632L263 630.7L263 630.7L268.7 630.1L280.1 630.1L285.8 624.3L297.1 624.3L302.8 622.4L359.8 622.4L365.5 620.9L393.9 620.9L399.6 620L405.3 620L411 619L422.4 619L428.1 604.6L479.3 604.6L485 590.9L513.5 590.9L519.2 550.7L530.6 550.7L536.3 529.2L541.9 529.2L547.6 521.6L587.5 521.6L593.2 512.6L610.3 512.6L616 507.1L627.3 507.1L633 500.1L644.4 500.1L650.1 494.2L684.3 494.2L690 493.9L803.8 493.9L809.5 491.3L826.6 491.3"/>
<path d="M217.446 641L217.4 641L223.1 638.8L257.3 638.8L263 637.1L263 637.1L268.7 636L297.1 636L302.8 634.7L308.5 634.7L314.2 634.6L331.3 634.6L337 634.1L348.4 634.1L354.1 623.6L399.6 623.6L405.3 622.2L405.3 622.2L411 613.6L422.4 613.6L428.1 599.1L439.5 599.1L445.2 587.9L462.2 587.9L467.9 581.8L496.4 581.8L502.1 579.1L502.1 579.1L507.8 577.1L507.8 577.1L513.5 575.9L513.5 575.9L519.2 566.5L530.6 566.5L536.3 556.3L559 556.3L564.7 527.4L576.1 527.4L581.8 525.4L627.3 525.4L633 509.2L661.5 509.2L667.2 498.1L667.2 498.1L672.9 497.3L684.3 497.3L690 484.9L690 484.9L695.7 482.2L695.7 482.2L701.4 469.7L701.4 469.7L707 465.4L707 465.4L712.7 464.6L746.9 464.6L752.6 464.1L786.7 464.1L792.4 463L792.4 463L798.1 462L798.1 462L803.8 461.9L803.8 461.9L809.5 457.9L826.6 457.9"/>
<path d="M217.446 641L319.9 641L325.6 635.9L331.3 635.9L337 628.4L342.7 628.4L348.4 624.6L371.2 624.6L376.9 618.2L428.1 618.2L433.8 587.9L439.5 587.9L445.2 563.1L456.6 563.1L462.2 561.4L496.4 561.4L502.1 555.3L519.2 555.3L524.9 474.3L530.6 474.3L536.3 469L541.9 469L547.6 468L547.6 468L553.3 456.4L570.4 456.4L576.1 456.2L581.8 456.2L587.5 455.6L587.5 455.6L593.2 451.4L593.2 451.4L598.9 450.1L598.9 450.1L604.6 442.9L627.3 442.9L633 436.9L667.2 436.9L672.9 436.1L672.9 436.1L678.6 431.3L707 431.3L712.7 428.9L712.7 428.9L718.4 426L746.9 426L752.6 425.1L798.1 425.1L803.8 424.4L803.8 424.4L809.5 424.3L826.6 424.3"/>
<path d="M217.446 641L223.1 641L228.8 631L314.2 631L319.9 627.4L393.9 627.4L399.6 626.8L399.6 626.8L405.3 615.4L416.7 615.4L422.4 612.4L513.5 612.4L519.2 599.3L530.6 599.3L536.3 592.7L541.9 592.7L547.6 586.9L559 586.9L564.7 566.5L581.8 566.5L587.5 549.5L638.7 549.5L644.4 542.1L667.2 542.1L672.9 541.1L695.7 541.1L701.4 540.2L718.4 540.2L724.1 533.9L724.1 533.9L729.8 506.4L764 506.4L769.7 497.7L792.4 497.7L798.1 486.8L815.2 486.8L820.9 483.7L826.6 483.7"/>
<path d="M217.446 641L393.9 641L399.6 633.5L411 633.5L416.7 624.9L416.7 624.9L422.4 620.2L450.9 620.2L456.6 605L462.2 605L467.9 575.5L496.4 575.5L502.1 553.1L524.9 553.1L530.6 552.8L536.3 552.8L541.9 551.5L553.3 551.5L559 550.4L559 550.4L564.7 544.4L570.4 544.4L576.1 538.9L581.8 538.9L587.5 484L587.5 484L593.2 481.1L610.3 481.1L616 480.4L616 480.4L621.6 479.2L650.1 479.2L655.8 476.2L655.8 476.2L661.5 476L667.2 476L672.9 473.5L678.6 473.5L684.3 469.7L690 469.7L695.7 467.7L701.4 467.7L707 466.8L712.7 466.8L718.4 462.2L735.5 462.2L741.2 461.6L746.9 461.6L752.6 460.8L752.6 460.8L758.3 460.7L764 460.7L769.7 460.1L769.7 460.1L775.4 456.1L781.1 456.1L786.7 455.7L786.7 455.7L792.4 449L826.6 449"/>
<path d="M217.446 641L240.2 641L245.9 634.2L268.7 634.2L274.4 629.6L319.9 629.6L325.6 613.6L337 613.6L342.7 607.5L405.3 607.5L411 607.4L467.9 607.4L473.6 581.2L485 581.2L490.7 575.8L507.8 575.8L513.5 507L519.2 507L524.9 502.3L570.4 502.3L576.1 460.2L616 460.2L621.6 443.9L627.3 443.9L633 438.8L644.4 438.8L650.1 434.6L650.1 434.6L655.8 413.5L695.7 413.5L701.4 389.9L718.4 389.9L724.1 385.1L735.5 385.1L741.2 384.9L741.2 384.9L746.9 384.8L752.6 384.8L758.3 383L764 383L769.7 380.5L775.4 380.5L781.1 378.9L798.1 378.9L803.8 378.9L826.6 378.9"/>
<path d="M217.446 641L234.5 641L240.2 640.5L319.9 640.5L325.6 640.4L325.6 640.4L331.3 617.6L337 617.6L342.7 609.5L371.2 609.5L376.9 609.4L393.9 609.4L399.6 607.9L416.7 607.9L422.4 607.8L439.5 607.8L445.2 607.5L473.6 607.5L479.3 595.7L479.3 595.7L485 580L485 580L490.7 576.5L490.7 576.5L496.4 572.3L502.1 572.3L507.8 559L507.8 559L513.5 554.2L587.5 554.2L593.2 551.5L604.6 551.5L610.3 535.4L610.3 535.4L616 511.3L638.7 511.3L644.4 497.1L661.5 497.1L667.2 490.4L672.9 490.4L678.6 490.3L695.7 490.3L701.4 477.2L718.4 477.2L724.1 471.1L729.8 471.1L735.5 470.3L815.2 470.3L820.9 468.8L820.9 468.8L826.6 467.9L826.6 467.9"/>
<path d="M217.446 641L337 641L342.7 640.6L348.4 640.6L354.1 639.9L354.1 639.9L359.8 639.8L359.8 639.8L365.5 621.1L365.5 621.1L371.2 619.3L388.2 619.3L393.9 615.3L439.5 615.3L445.2 591.1L445.2 591.1L450.9 563.9L450.9 563.9L456.6 557.5L456.6 557.5L462.2 545.4L473.6 545.4L479.3 539.9L479.3 539.9L485 522.6L485 522.6L490.7 515L513.5 515L519.2 507.6L536.3 507.6L541.9 503.8L547.6 503.8L553.3 499.1L553.3 499.1L559 495.3L570.4 495.3L576.1 495.2L576.1 495.2L581.8 490.8L581.8 490.8L587.5 477.4L633 477.4L638.7 475.1L661.5 475.1L667.2 474.5L667.2 474.5L672.9 456.6L672.9 456.6L678.6 452.4L678.6 452.4L684.3 447.7L712.7 447.7L718.4 446.1L746.9 446.1L752.6 433.2L758.3 433.2L764 426.2L786.7 426.2L792.4 422.3L820.9 422.3L826.6 418L826.6 418"/>
<path d="M217.446 641L354.1 641L359.8 633.4L365.5 633.4L371.2 631.1L371.2 631.1L376.9 619.8L479.3 619.8L485 599.2L485 599.2L490.7 550.7L502.1 550.7L507.8 548.2L507.8 548.2L513.5 547.1L530.6 547.1L536.3 535L547.6 535L553.3 530L553.3 530L559 522.8L559 522.8L564.7 511.3L610.3 511.3L616 511.2L627.3 511.2L633 508.8L661.5 508.8L667.2 506.4L672.9 506.4L678.6 478.1L678.6 478.1L684.3 473.7L684.3 473.7L690 473.4L701.4 473.4L707 460.4L707 460.4L712.7 451.1L712.7 451.1L718.4 444.6L718.4 444.6L724.1 437.5L724.1 437.5L729.8 435.2L729.8 435.2L735.5 403.7L741.2 403.7L746.9 391.8L758.3 391.8L764 388.5L775.4 388.5L781.1 385.8L809.5 385.8L815.2 385.8L826.6 385.8"/>
<path d="M217.446 641L291.5 641L297.1 637.1L297.1 637.1L302.8 631L308.5 631L314.2 618.6L325.6 618.6L331.3 613.2L337 613.2L342.7 577.1L354.1 577.1L359.8 565L382.5 565L388.2 542.1L405.3 542.1L411 529.4L411 529.4L416.7 526.9L416.7 526.9L422.4 526.3L422.4 526.3L428.1 526.3L428.1 526.3L433.8 515L439.5 515L445.2 491.2L445.2 491.2L450.9 488.6L462.2 488.6L467.9 462.4L473.6 462.4L479.3 451.5L507.8 451.5L513.5 447.7L524.9 447.7L530.6 438L530.6 438L536.3 434L536.3 434L541.9 424.5L610.3 424.5L616 424.4L661.5 424.4L667.2 421.2L678.6 421.2L684.3 420.4L690 420.4L695.7 420L701.4 420L707 419.9L724.1 419.9L729.8 419.4L729.8 419.4L735.5 416.6L741.2 416.6L746.9 415.7L758.3 415.7L764 408.3L764 408.3L769.7 406.1L820.9 406.1L826.6 405.9L826.6 405.9"/>
<path d="M217.446 641L319.9 641L325.6 622.2L325.6 622.2L331.3 622.1L331.3 622.1L337 621L337 621L342.7 616.3L342.7 616.3L348.4 595.9L354.1 595.9L359.8 586.5L359.8 586.5L365.5 571.1L399.6 571.1L405.3 550.5L405.3 550.5L411 532.3L422.4 532.3L428.1 532L450.9 532L456.6 500.8L456.6 500.8L462.2 499.4L467.9 499.4L473.6 497.8L490.7 497.8L496.4 497.6L496.4 497.6L502.1 497.4L502.1 497.4L507.8 458.3L513.5 458.3L519.2 452.7L559 452.7L564.7 452.1L581.8 452.1L587.5 451.9L587.5 451.9L593.2 428.8L598.9 428.8L604.6 420.3L616 420.3L621.6 393.1L644.4 393.1L650.1 393L672.9 393L678.6 392.7L678.6 392.7L684.3 391.5L684.3 391.5L690 390.8L701.4 390.8L707 390.6L724.1 390.6L729.8 390L746.9 390L752.6 386.7L752.6 386.7L758.3 386.4L792.4 386.4L798.1 386L826.6 386"/>
<path d="M217.446 641L388.2 641L393.9 636.5L393.9 636.5L399.6 620.3L405.3 620.3L411 579.6L416.7 579.6L422.4 579.4L445.2 579.4L450.9 575.8L479.3 575.8L485 572L524.9 572L530.6 550.5L593.2 550.5L598.9 533.5L598.9 533.5L604.6 521.5L610.3 521.5L616 491.8L627.3 491.8L633 490.8L644.4 490.8L650.1 488.1L667.2 488.1L672.9 475.4L672.9 475.4L678.6 467L678.6 467L684.3 466.7L695.7 466.7L701.4 441.1L707 441.1L712.7 435.1L729.8 435.1L735.5 426.4L786.7 426.4L792.4 425.4L826.6 425.4"/>
<path d="M217.446 641L302.8 641L308.5 635.7L325.6 635.7L331.3 633.1L348.4 633.1L354.1 633.1L376.9 633.1L382.5 633.1L388.2 633.1L393.9 633.1L416.7 633.1L422.4 628.7L422.4 628.7L428.1 625.3L428.1 625.3L433.8 511.5L433.8 511.5L439.5 496L473.6 496L479.3 495.5L479.3 495.5L485 473.9L485 473.9L490.7 471L519.2 471L524.9 462.3L547.6 462.3L553.3 443.7L559 443.7L564.7 413.6L564.7 413.6L570.4 368L576.1 368L581.8 362.7L598.9 362.7L604.6 359.9L610.3 359.9L616 356.1L644.4 356.1L650.1 354.2L650.1 354.2L655.8 344.4L690 344.4L695.7 341.8L695.7 341.8L701.4 336.3L701.4 336.3L707 335.8L707 335.8L712.7 328.5L712.7 328.5L718.4 308.4L741.2 308.4L746.9 307.9L758.3 307.9L764 304.9L798.1 304.9L803.8 304.5L815.2 304.5L820.9 304.5L820.9 304.5L826.6 303.3L826.6 303.3"/>
<path d="M217.446 641L348.4 641L354.1 640.2L354.1 640.2L359.8 637.4L371.2 637.4L376.9 636.9L376.9 636.9L382.5 624.5L399.6 624.5L405.3 598.1L411 598.1L416.7 560L428.1 560L433.8 555.4L445.2 555.4L450.9 541.9L496.4 541.9L502.1 537.1L513.5 537.1L519.2 531.4L598.9 531.4L604.6 523.1L661.5 523.1L667.2 522.2L672.9 522.2L678.6 522.1L729.8 522.1L735.5 519.9L758.3 519.9L764 519.1L798.1 519.1L803.8 518L820.9 518L826.6 517.4L826.6 517.4"/>
<path d="M217.446 641L325.6 641L331.3 640.4L337 640.4L342.7 637.1L348.4 637.1L354.1 630.1L354.1 630.1L359.8 617.1L365.5 617.1L371.2 612.8L382.5 612.8L388.2 610.3L388.2 610.3L393.9 606.7L405.3 606.7L411 576.7L411 576.7L416.7 574.9L456.6 574.9L462.2 574.9L490.7 574.9L496.4 540.8L496.4 540.8L502.1 533.6L507.8 533.6L513.5 532.6L553.3 532.6L559 531.8L559 531.8L564.7 503.8L581.8 503.8L587.5 490.6L587.5 490.6L593.2 490.3L598.9 490.3L604.6 481.3L627.3 481.3L633 480.3L644.4 480.3L650.1 477.6L661.5 477.6L667.2 473.3L667.2 473.3L672.9 473.2L684.3 473.2L690 458.6L707 458.6L712.7 457.6L712.7 457.6L718.4 457.3L729.8 457.3L735.5 452.3L735.5 452.3L741.2 452.2L769.7 452.2L775.4 452.1L775.4 452.1L781.1 449.6L786.7 449.6L792.4 448.3L815.2 448.3L820.9 441.8L826.6 441.8"/>
<path d="M217.446 641L291.5 641L297.1 639.4L302.8 639.4L308.5 637L314.2 637L319.9 629.5L359.8 629.5L365.5 617.6L376.9 617.6L382.5 612.6L382.5 612.6L388.2 611.9L393.9 611.9L399.6 611.4L411 611.4L416.7 610.2L433.8 610.2L439.5 585.4L439.5 585.4L445.2 577.9L450.9 577.9L456.6 565L467.9 565L473.6 560.5L479.3 560.5L485 555.9L485 555.9L490.7 554.4L490.7 554.4L496.4 486.6L496.4 486.6L502.1 475.3L564.7 475.3L570.4 474.6L593.2 474.6L598.9 464.2L621.6 464.2L627.3 458.4L627.3 458.4L633 452.5L633 452.5L638.7 442.7L638.7 442.7L644.4 437.4L655.8 437.4L661.5 424.5L661.5 424.5L667.2 400.5L684.3 400.5L690 398.8L690 398.8L695.7 394.8L712.7 394.8L718.4 393.6L729.8 393.6L735.5 392.4L764 392.4L769.7 391.5L781.1 391.5L786.7 389L803.8 389L809.5 388.2L826.6 388.2"/>
<path d="M217.446 641L274.4 641L280.1 628.5L302.8 628.5L308.5 626.4L314.2 626.4L319.9 622.7L325.6 622.7L331.3 621.6L348.4 621.6L354.1 619.5L371.2 619.5L376.9 614.8L405.3 614.8L411 612L428.1 612L433.8 593.5L462.2 593.5L467.9 593.4L473.6 593.4L479.3 579L519.2 579L524.9 554.5L524.9 554.5L530.6 550.6L598.9 550.6L604.6 549.5L627.3 549.5L633 549L633 549L638.7 548.8L655.8 548.8L661.5 538.9L672.9 538.9L678.6 534.6L701.4 534.6L707 534.5L707 534.5L712.7 532.6L712.7 532.6L718.4 529.5L741.2 529.5L746.9 528.6L746.9 528.6L752.6 528.5L775.4 528.5L781.1 527.3L798.1 527.3L803.8 526.5L820.9 526.5L826.6 513.7L826.6 513.7"/>
<path d="M217.446 641L291.5 641L297.1 641L297.1 641L302.8 640.7L302.8 640.7L308.5 639.8L348.4 639.8L354.1 639.5L359.8 639.5L365.5 636.1L445.2 636.1L450.9 617.1L450.9 617.1L456.6 602.8L462.2 602.8L467.9 591.4L479.3 591.4L485 569.4L530.6 569.4L536.3 563.1L564.7 563.1L570.4 551.2L598.9 551.2L604.6 543.5L638.7 543.5L644.4 541.8L650.1 541.8L655.8 535.5L678.6 535.5L684.3 531.8L690 531.8L695.7 526.2L701.4 526.2L707 516.4L707 516.4L712.7 512.9L786.7 512.9L792.4 512.8L820.9 512.8L826.6 512.7L826.6 512.7"/>
<path d="M217.446 641L319.9 641L325.6 637.6L365.5 637.6L371.2 637.4L382.5 637.4L388.2 637.1L450.9 637.1L456.6 629.1L467.9 629.1L473.6 618.2L473.6 618.2L479.3 605.1L513.5 605.1L519.2 593.9L559 593.9L564.7 585.5L570.4 585.5L576.1 578.9L593.2 578.9L598.9 534.9L616 534.9L621.6 533.6L621.6 533.6L627.3 525.4L678.6 525.4L684.3 520.7L695.7 520.7L701.4 518.3L718.4 518.3L724.1 514.2L746.9 514.2L752.6 512.7L786.7 512.7L792.4 509.2L792.4 509.2L798.1 502.3L803.8 502.3L809.5 500.7L826.6 500.7"/>
<path d="M217.446 641L354.1 641L359.8 631.7L365.5 631.7L371.2 586.4L371.2 586.4L376.9 576.4L416.7 576.4L422.4 528.4L445.2 528.4L450.9 507.9L456.6 507.9L462.2 504.8L462.2 504.8L467.9 498.6L490.7 498.6L496.4 497.9L524.9 497.9L530.6 495L541.9 495L547.6 494L559 494L564.7 468.3L587.5 468.3L593.2 467.9L604.6 467.9L610.3 454.6L610.3 454.6L616 444.6L621.6 444.6L627.3 441.6L667.2 441.6L672.9 440.8L684.3 440.8L690 438.9L690 438.9L695.7 436.1L695.7 436.1L701.4 427.5L718.4 427.5L724.1 426.9L741.2 426.9L746.9 418.9L758.3 418.9L764 404.3L820.9 404.3L826.6 403.9L826.6 403.9"/>
<path d="M217.446 641L354.1 641L359.8 635.5L371.2 635.5L376.9 600.4L376.9 600.4L382.5 600L393.9 600L399.6 588.7L428.1 588.7L433.8 584.4L450.9 584.4L456.6 583.6L467.9 583.6L473.6 576.4L496.4 576.4L502.1 545.7L524.9 545.7L530.6 545.5L547.6 545.5L553.3 542.1L553.3 542.1L559 500.1L564.7 500.1L570.4 476.4L633 476.4L638.7 473.2L650.1 473.2L655.8 473L661.5 473L667.2 458.7L690 458.7L695.7 456.5L741.2 456.5L746.9 455L826.6 455"/>
<path d="M217.446 641L388.2 641L393.9 618.2L405.3 618.2L411 618.2L411 618.2L416.7 576.8L473.6 576.8L479.3 573.8L570.4 573.8L576.1 569.7L587.5 569.7L593.2 532.3L598.9 532.3L604.6 516.2L616 516.2L621.6 493L644.4 493L650.1 492.9L650.1 492.9L655.8 492.8L667.2 492.8L672.9 485.3L672.9 485.3L678.6 484.2L707 484.2L712.7 480.7L729.8 480.7L735.5 477.8L752.6 477.8L758.3 464.7L764 464.7L769.7 458.4L769.7 458.4L775.4 458.1L792.4 458.1L798.1 455.9L826.6 455.9"/>
<path d="M217.446 641L245.9 641L251.6 641L280.1 641L285.8 640.2L325.6 640.2L331.3 630.2L337 630.2L342.7 610.3L348.4 610.3L354.1 596.3L365.5 596.3L371.2 594.2L439.5 594.2L445.2 593.7L467.9 593.7L473.6 576.1L519.2 576.1L524.9 558.3L559 558.3L564.7 558L581.8 558L587.5 523.9L587.5 523.9L593.2 517.8L598.9 517.8L604.6 517.7L621.6 517.7L627.3 513.7L627.3 513.7L633 511.6L633 511.6L638.7 511.2L650.1 511.2L655.8 496.2L655.8 496.2L661.5 476.9L667.2 476.9L672.9 476.6L678.6 476.6L684.3 474.4L690 474.4L695.7 473.5L775.4 473.5L781.1 470.5L792.4 470.5L798.1 470.4L809.5 470.4L815.2 469.7L815.2 469.7L820.9 468.7L826.6 468.7"/>
<path d="M217.446 641L228.8 641L234.5 640.8L245.9 640.8L251.6 639.9L274.4 639.9L280.1 629.7L280.1 629.7L285.8 624.2L285.8 624.2L291.5 608.4L291.5 608.4L297.1 605L302.8 605L308.5 599.7L308.5 599.7L314.2 593.3L359.8 593.3L365.5 592.7L365.5 592.7L371.2 591.3L382.5 591.3L388.2 560.3L388.2 560.3L393.9 559.4L393.9 559.4L399.6 547.7L405.3 547.7L411 547.1L416.7 547.1L422.4 547L428.1 547L433.8 535.5L439.5 535.5L445.2 531.5L467.9 531.5L473.6 521L536.3 521L541.9 518.4L547.6 518.4L553.3 508.8L559 508.8L564.7 488.3L564.7 488.3L570.4 461L616 461L621.6 453.2L638.7 453.2L644.4 453.1L655.8 453.1L661.5 451.6L684.3 451.6L690 449.7L690 449.7L695.7 445.2L695.7 445.2L701.4 445.2L729.8 445.2L735.5 443.3L764 443.3L769.7 441L809.5 441L815.2 437L815.2 437L820.9 436.8L826.6 436.8"/>
<path d="M217.446 641L228.8 641L234.5 640.5L240.2 640.5L245.9 640L302.8 640L308.5 639.9L325.6 639.9L331.3 636.3L337 636.3L342.7 636.2L342.7 636.2L348.4 631.9L354.1 631.9L359.8 619.4L376.9 619.4L382.5 614.2L388.2 614.2L393.9 609.7L393.9 609.7L399.6 600.1L405.3 600.1L411 575.9L450.9 575.9L456.6 564.1L513.5 564.1L519.2 521.4L519.2 521.4L524.9 518.3L530.6 518.3L536.3 518.3L547.6 518.3L553.3 513.4L553.3 513.4L559 508.3L564.7 508.3L570.4 496.7L627.3 496.7L633 493.8L655.8 493.8L661.5 493L667.2 493L672.9 493L678.6 493L684.3 488.7L718.4 488.7L724.1 487.3L724.1 487.3L729.8 477.7L746.9 477.7L752.6 476.6L752.6 476.6L758.3 473.7L809.5 473.7L815.2 471.8L815.2 471.8L820.9 463.8L826.6 463.8"/>
<path d="M217.446 641L245.9 641L251.6 640.5L257.3 640.5L263 640.5L263 640.5L268.7 639.5L280.1 639.5L285.8 627.9L285.8 627.9L291.5 626.9L302.8 626.9L308.5 624L359.8 624L365.5 618.9L416.7 618.9L422.4 616.7L433.8 616.7L439.5 609.1L439.5 609.1L445.2 608.8L445.2 608.8L450.9 605.1L462.2 605.1L467.9 602.4L467.9 602.4L473.6 580.1L473.6 580.1L479.3 561.5L502.1 561.5L507.8 547.5L524.9 547.5L530.6 538.4L587.5 538.4L593.2 519.8L598.9 519.8L604.6 509.5L627.3 509.5L633 509.4L633 509.4L638.7 508.9L650.1 508.9L655.8 501.9L667.2 501.9L672.9 493.1L718.4 493.1L724.1 473.3L758.3 473.3L764 469.5L769.7 469.5L775.4 469.3L803.8 469.3L809.5 467.7L826.6 467.7"/>
<path d="M217.446 641L319.9 641L325.6 634.8L331.3 634.8L337 628.8L337 628.8L342.7 618.5L359.8 618.5L365.5 615.4L365.5 615.4L371.2 612.7L371.2 612.7L376.9 611.4L382.5 611.4L388.2 605.2L388.2 605.2L393.9 605.2L411 605.2L416.7 601.5L439.5 601.5L445.2 502.5L467.9 502.5L473.6 500.2L473.6 500.2L479.3 499.3L479.3 499.3L485 495.9L502.1 495.9L507.8 485.7L507.8 485.7L513.5 469.5L513.5 469.5L519.2 468.9L536.3 468.9L541.9 464.5L547.6 464.5L553.3 450.7L576.1 450.7L581.8 437.2L598.9 437.2L604.6 431.5L604.6 431.5L610.3 430.4L616 430.4L621.6 430.2L627.3 430.2L633 428.6L638.7 428.6L644.4 428.1L650.1 428.1L655.8 417.7L667.2 417.7L672.9 417.5L690 417.5L695.7 417.4L724.1 417.4L729.8 403.3L752.6 403.3L758.3 400.6L781.1 400.6L786.7 399.8L798.1 399.8L803.8 399L809.5 399L815.2 394.9L826.6 394.9"/>
<path d="M217.446 641L319.9 641L325.6 639.3L325.6 639.3L331.3 638.6L342.7 638.6L348.4 635.4L365.5 635.4L371.2 606L382.5 606L388.2 579L411 579L416.7 576.7L422.4 576.7L428.1 572.3L445.2 572.3L450.9 561.1L467.9 561.1L473.6 549.8L473.6 549.8L479.3 548.8L530.6 548.8L536.3 546.1L536.3 546.1L541.9 536.3L564.7 536.3L570.4 507.9L576.1 507.9L581.8 477.5L604.6 477.5L610.3 475.8L610.3 475.8L616 474.6L621.6 474.6L627.3 463.2L644.4 463.2L650.1 463.2L667.2 463.2L672.9 441.6L678.6 441.6L684.3 426.6L695.7 426.6L701.4 413.5L707 413.5L712.7 413.4L729.8 413.4L735.5 396.2L792.4 396.2L798.1 395.5L826.6 395.5"/>
<path d="M217.446 641L308.5 641L314.2 637.4L376.9 637.4L382.5 579L393.9 579L399.6 578.2L399.6 578.2L405.3 551.8L411 551.8L416.7 549.8L479.3 549.8L485 454.7L485 454.7L490.7 446L496.4 446L502.1 441.6L581.8 441.6L587.5 418.8L593.2 418.8L598.9 412.7L627.3 412.7L633 412.6L633 412.6L638.7 406.1L695.7 406.1L701.4 404L701.4 404L707 398.9L707 398.9L712.7 376.9L724.1 376.9L729.8 376.4L809.5 376.4L815.2 376.3L826.6 376.3"/>
<path d="M217.446 641L291.5 641L297.1 641L302.8 641L308.5 629.8L342.7 629.8L348.4 622.5L365.5 622.5L371.2 608.8L382.5 608.8L388.2 604L388.2 604L393.9 578L467.9 578L473.6 555.8L490.7 555.8L496.4 534.3L502.1 534.3L507.8 515.2L536.3 515.2L541.9 513.7L576.1 513.7L581.8 511.3L587.5 511.3L593.2 511.1L610.3 511.1L616 501.7L627.3 501.7L633 498.8L638.7 498.8L644.4 467.7L661.5 467.7L667.2 466.7L707 466.7L712.7 465.4L718.4 465.4L724.1 459.1L724.1 459.1L729.8 446.7L752.6 446.7L758.3 443.4L826.6 443.4"/>
<path d="M217.446 641L405.3 641L411 626.9L428.1 626.9L433.8 594.3L433.8 594.3L439.5 575.1L445.2 575.1L450.9 552.3L536.3 552.3L541.9 551L593.2 551L598.9 544L650.1 544L655.8 536.4L661.5 536.4L667.2 536L672.9 536L678.6 535.7L690 535.7L695.7 535.5L707 535.5L712.7 535.4L718.4 535.4L724.1 533.3L724.1 533.3L729.8 528.4L729.8 528.4L735.5 520.5L735.5 520.5L741.2 508.1L741.2 508.1L746.9 504.6L775.4 504.6L781.1 491.8L786.7 491.8L792.4 489.2L792.4 489.2L798.1 487L798.1 487L803.8 486.9L826.6 486.9"/>
<path d="M217.446 641L251.6 641L257.3 639.1L257.3 639.1L263 638.3L263 638.3L268.7 637.4L274.4 637.4L280.1 597.9L308.5 597.9L314.2 591.5L354.1 591.5L359.8 573.1L359.8 573.1L365.5 562.5L393.9 562.5L399.6 559L399.6 559L405.3 556.6L433.8 556.6L439.5 527.8L496.4 527.8L502.1 489L536.3 489L541.9 486.2L541.9 486.2L547.6 473.2L587.5 473.2L593.2 471.7L616 471.7L621.6 463.2L650.1 463.2L655.8 463.1L661.5 463.1L667.2 449.2L712.7 449.2L718.4 449.1L826.6 449.1"/>
<path d="M217.446 641L285.8 641L291.5 638.9L331.3 638.9L337 623.1L354.1 623.1L359.8 578.8L388.2 578.8L393.9 548.2L411 548.2L416.7 544L422.4 544L428.1 543.8L450.9 543.8L456.6 533.8L462.2 533.8L467.9 520.3L479.3 520.3L485 456.6L490.7 456.6L496.4 436L519.2 436L524.9 418.5L547.6 418.5L553.3 397L559 397L564.7 380.2L621.6 380.2L627.3 363L695.7 363L701.4 356.8L707 356.8L712.7 351.2L724.1 351.2L729.8 350L735.5 350L741.2 349.5L741.2 349.5L746.9 346.5L746.9 346.5L752.6 330.2L775.4 330.2L781.1 308.6L809.5 308.6L815.2 307.3L815.2 307.3L820.9 303.3L826.6 303.3"/>
<path d="M217.446 641L228.8 641L234.5 637.3L285.8 637.3L291.5 631.6L331.3 631.6L337 628.8L354.1 628.8L359.8 628L365.5 628L371.2 572.3L371.2 572.3L376.9 568.1L428.1 568.1L433.8 563.5L439.5 563.5L445.2 530.2L564.7 530.2L570.4 527.6L570.4 527.6L576.1 523.1L576.1 523.1L581.8 497.5L593.2 497.5L598.9 488.8L610.3 488.8L616 453.3L650.1 453.3L655.8 446.5L661.5 446.5L667.2 443.6L672.9 443.6L678.6 442.9L678.6 442.9L684.3 438.3L695.7 438.3L701.4 434.1L707 434.1L712.7 432.2L724.1 432.2L729.8 431.7L746.9 431.7L752.6 429.4L781.1 429.4L786.7 429.1L820.9 429.1L826.6 428L826.6 428"/>
<path d="M217.446 641L393.9 641L399.6 627.7L405.3 627.7L411 627.7L411 627.7L416.7 593.8L433.8 593.8L439.5 573.7L439.5 573.7L445.2 570.4L456.6 570.4L462.2 563.5L479.3 563.5L485 559.9L485 559.9L490.7 559.1L496.4 559.1L502.1 556.8L564.7 556.8L570.4 554.2L570.4 554.2L576.1 541.5L581.8 541.5L587.5 541.2L593.2 541.2L598.9 538L610.3 538L616 535.9L633 535.9L638.7 533.5L661.5 533.5L667.2 528.9L667.2 528.9L672.9 526.7L684.3 526.7L690 526.1L724.1 526.1L729.8 519.1L729.8 519.1L735.5 517.7L746.9 517.7L752.6 517.4L758.3 517.4L764 516.4L775.4 516.4L781.1 513.1L781.1 513.1L786.7 513.1L786.7 513.1L792.4 511.8L803.8 511.8L809.5 511.1L809.5 511.1L815.2 510.8L826.6 510.8"/>
<path d="M217.446 641L405.3 641L411 635.2L479.3 635.2L485 599L507.8 599L513.5 586.6L524.9 586.6L530.6 586.2L536.3 586.2L541.9 533.4L541.9 533.4L547.6 533.4L547.6 533.4L553.3 533.2L553.3 533.2L559 519L559 519L564.7 517.4L593.2 517.4L598.9 517.4L616 517.4L621.6 516.8L627.3 516.8L633 514.2L638.7 514.2L644.4 505.4L644.4 505.4L650.1 505.4L667.2 505.4L672.9 505L672.9 505L678.6 505L684.3 505L690 505L690 505L695.7 504.2L695.7 504.2L701.4 502.7L707 502.7L712.7 491.2L712.7 491.2L718.4 488.8L735.5 488.8L741.2 484.3L746.9 484.3L752.6 482.7L758.3 482.7L764 477.2L764 477.2L769.7 475.2L786.7 475.2L792.4 474.9L803.8 474.9L809.5 474.4L826.6 474.4"/>
<path d="M217.446 641L376.9 641L382.5 580.5L416.7 580.5L422.4 578L439.5 578L445.2 496.1L450.9 496.1L456.6 491.5L467.9 491.5L473.6 485.7L490.7 485.7L496.4 484.6L507.8 484.6L513.5 484.3L519.2 484.3L524.9 475.4L541.9 475.4L547.6 475L547.6 475L553.3 474.9L570.4 474.9L576.1 474.6L587.5 474.6L593.2 470.2L616 470.2L621.6 469.6L627.3 469.6L633 468.6L650.1 468.6L655.8 462.6L661.5 462.6L667.2 460.9L695.7 460.9L701.4 460.6L712.7 460.6L718.4 457.9L729.8 457.9L735.5 440L741.2 440L746.9 438.2L786.7 438.2L792.4 437.3L792.4 437.3L798.1 436.1L809.5 436.1L815.2 434.1L826.6 434.1"/>
<path d="M217.446 641L245.9 641L251.6 640.4L251.6 640.4L257.3 639L376.9 639L382.5 625.4L405.3 625.4L411 622.6L428.1 622.6L433.8 618.2L433.8 618.2L439.5 617.8L450.9 617.8L456.6 594.4L513.5 594.4L519.2 570.9L536.3 570.9L541.9 569.3L559 569.3L564.7 566.3L570.4 566.3L576.1 551.7L604.6 551.7L610.3 550L610.3 550L616 537L650.1 537L655.8 534.6L695.7 534.6L701.4 531.9L735.5 531.9L741.2 525.4L775.4 525.4L781.1 525.4L803.8 525.4L809.5 524.8L826.6 524.8"/>
<path d="M217.446 641L388.2 641L393.9 626.7L393.9 626.7L399.6 626.5L433.8 626.5L439.5 601.5L445.2 601.5L450.9 601.1L462.2 601.1L467.9 598.2L473.6 598.2L479.3 570.6L496.4 570.6L502.1 544.7L519.2 544.7L524.9 542L547.6 542L553.3 533.4L564.7 533.4L570.4 510.3L570.4 510.3L576.1 499.5L587.5 499.5L593.2 492.1L604.6 492.1L610.3 490.9L644.4 490.9L650.1 490.7L650.1 490.7L655.8 489.8L655.8 489.8L661.5 485.5L661.5 485.5L667.2 480.2L672.9 480.2L678.6 477.3L695.7 477.3L701.4 472.6L735.5 472.6L741.2 469.8L741.2 469.8L746.9 466.1L764 466.1L769.7 464.7L781.1 464.7L786.7 458L786.7 458L792.4 455.9L803.8 455.9L809.5 448.3L809.5 448.3L815.2 429.5L820.9 429.5L826.6 423.7L826.6 423.7"/>
<path d="M217.446 641L285.8 641L291.5 634.8L331.3 634.8L337 624.3L382.5 624.3L388.2 623.6L393.9 623.6L399.6 603.5L411 603.5L416.7 524.8L456.6 524.8L462.2 524.6L462.2 524.6L467.9 501.8L490.7 501.8L496.4 417.6L502.1 417.6L507.8 392.7L513.5 392.7L519.2 380.3L541.9 380.3L547.6 349.7L593.2 349.7L598.9 336.9L598.9 336.9L604.6 332.4L684.3 332.4L690 331L724.1 331L729.8 329.4L729.8 329.4L735.5 328.2L746.9 328.2L752.6 316.2L764 316.2L769.7 313.4L792.4 313.4L798.1 312.1L826.6 312.1"/>
<path d="M217.446 641L257.3 641L263 635.2L291.5 635.2L297.1 623L297.1 623L302.8 581.4L314.2 581.4L319.9 575.4L354.1 575.4L359.8 538.6L371.2 538.6L376.9 535.5L445.2 535.5L450.9 525.3L462.2 525.3L467.9 524L496.4 524L502.1 482.3L610.3 482.3L616 457.8L621.6 457.8L627.3 422.7L695.7 422.7L701.4 416.1L712.7 416.1L718.4 367.6L718.4 367.6L724.1 350.4L735.5 350.4L741.2 341.4L741.2 341.4L746.9 313.1L792.4 313.1L798.1 311.9L820.9 311.9L826.6 309.7L826.6 309.7"/>
<path d="M217.446 641L405.3 641L411 636.8L473.6 636.8L479.3 635.2L485 635.2L490.7 635L524.9 635L530.6 620L541.9 620L547.6 589.9L547.6 589.9L553.3 581.5L559 581.5L564.7 524.7L570.4 524.7L576.1 508.3L621.6 508.3L627.3 494.7L633 494.7L638.7 491.9L644.4 491.9L650.1 461.6L678.6 461.6L684.3 459L712.7 459L718.4 445.3L718.4 445.3L724.1 444.2L752.6 444.2L758.3 423.3L775.4 423.3L781.1 417.8L815.2 417.8L820.9 417.3L826.6 417.3"/>
<path d="M217.446 641L365.5 641L371.2 640.9L405.3 640.9L411 631L416.7 631L422.4 625.6L456.6 625.6L462.2 620.5L462.2 620.5L467.9 547.5L467.9 547.5L473.6 538.9L490.7 538.9L496.4 512.7L519.2 512.7L524.9 512.7L530.6 512.7L536.3 494.5L536.3 494.5L541.9 494.2L553.3 494.2L559 493.7L559 493.7L564.7 451.3L581.8 451.3L587.5 448.4L598.9 448.4L604.6 437.5L604.6 437.5L610.3 436.6L621.6 436.6L627.3 430.5L633 430.5L638.7 420.1L638.7 420.1L644.4 418.9L650.1 418.9L655.8 414.8L667.2 414.8L672.9 402.7L672.9 402.7L678.6 401.2L701.4 401.2L707 400L798.1 400L803.8 399.9L826.6 399.9"/>
<path d="M217.446 641L337 641L342.7 639L354.1 639L359.8 637.1L376.9 637.1L382.5 625.7L382.5 625.7L388.2 625.6L388.2 625.6L393.9 624.2L399.6 624.2L405.3 574.7L416.7 574.7L422.4 562.5L433.8 562.5L439.5 554.2L445.2 554.2L450.9 522.8L450.9 522.8L456.6 506.4L485 506.4L490.7 499.9L502.1 499.9L507.8 472.1L507.8 472.1L513.5 469.5L524.9 469.5L530.6 463.9L536.3 463.9L541.9 463L570.4 463L576.1 461L587.5 461L593.2 460.2L593.2 460.2L598.9 459.7L604.6 459.7L610.3 431.5L621.6 431.5L627.3 428.1L633 428.1L638.7 358.9L667.2 358.9L672.9 355.8L672.9 355.8L678.6 355.8L701.4 355.8L707 353L712.7 353L718.4 347.1L724.1 347.1L729.8 345.9L769.7 345.9L775.4 345.2L775.4 345.2L781.1 344.8L792.4 344.8L798.1 344.1L809.5 344.1L815.2 340.7L820.9 340.7L826.6 340L826.6 340"/>
<path d="M217.446 641L376.9 641L382.5 634.7L382.5 634.7L388.2 619.4L411 619.4L416.7 614.9L416.7 614.9L422.4 596.4L462.2 596.4L467.9 589.7L490.7 589.7L496.4 573.7L507.8 573.7L513.5 572.3L519.2 572.3L524.9 535.9L524.9 535.9L530.6 520.5L581.8 520.5L587.5 519.6L587.5 519.6L593.2 519.3L604.6 519.3L610.3 511.9L621.6 511.9L627.3 508.3L638.7 508.3L644.4 492.5L650.1 492.5L655.8 492.4L655.8 492.4L661.5 482.4L667.2 482.4L672.9 474.2L684.3 474.2L690 473.1L695.7 473.1L701.4 473.1L724.1 473.1L729.8 464L735.5 464L741.2 463.2L752.6 463.2L758.3 454.6L758.3 454.6L764 453L786.7 453L792.4 442.2L820.9 442.2L826.6 437.1L826.6 437.1"/>
<path d="M217.446 641L405.3 641L411 632.8L416.7 632.8L422.4 623L496.4 623L502.1 551.6L502.1 551.6L507.8 530.2L507.8 530.2L513.5 519.3L524.9 519.3L530.6 490.6L530.6 490.6L536.3 463L559 463L564.7 458.6L570.4 458.6L576.1 458.1L604.6 458.1L610.3 440.5L616 440.5L621.6 423.5L638.7 423.5L644.4 415.1L707 415.1L712.7 414.7L718.4 414.7L724.1 407.1L735.5 407.1L741.2 406.6L746.9 406.6L752.6 398.5L792.4 398.5L798.1 394.9L803.8 394.9L809.5 391.2L820.9 391.2L826.6 391L826.6 391"/>
<path d="M217.446 641L228.8 641L234.5 639.7L245.9 639.7L251.6 639.6L274.4 639.6L280.1 636.3L280.1 636.3L285.8 633.7L308.5 633.7L314.2 627.3L337 627.3L342.7 621.3L348.4 621.3L354.1 618.8L371.2 618.8L376.9 592L382.5 592L388.2 589.2L388.2 589.2L393.9 586.5L405.3 586.5L411 580.7L411 580.7L416.7 570.3L416.7 570.3L422.4 565.1L450.9 565.1L456.6 539.8L496.4 539.8L502.1 538.3L502.1 538.3L507.8 519.4L519.2 519.4L524.9 503L541.9 503L547.6 501.1L553.3 501.1L559 501.1L570.4 501.1L576.1 496.6L678.6 496.6L684.3 494.5L718.4 494.5L724.1 487L724.1 487L729.8 485.8L729.8 485.8L735.5 483.7L775.4 483.7L781.1 481.7L781.1 481.7L786.7 481.5L798.1 481.5L803.8 480.2L815.2 480.2L820.9 479.6L826.6 479.6"/>
<path d="M217.446 641L314.2 641L319.9 640.1L325.6 640.1L331.3 633.8L342.7 633.8L348.4 627.4L348.4 627.4L354.1 622.3L354.1 622.3L359.8 568.4L405.3 568.4L411 562.5L456.6 562.5L462.2 556.9L507.8 556.9L513.5 556.4L524.9 556.4L530.6 555.6L541.9 555.6L547.6 548L564.7 548L570.4 540.9L621.6 540.9L627.3 539.6L633 539.6L638.7 536.5L644.4 536.5L650.1 499.3L655.8 499.3L661.5 472L764 472L769.7 471.7L775.4 471.7L781.1 470.6L792.4 470.6L798.1 469.8L826.6 469.8"/>
<path d="M217.446 641L308.5 641L314.2 637.8L314.2 637.8L319.9 637.1L342.7 637.1L348.4 624.5L376.9 624.5L382.5 603.8L388.2 603.8L393.9 601.9L399.6 601.9L405.3 601.7L405.3 601.7L411 599.7L433.8 599.7L439.5 562.7L485 562.7L490.7 495.2L502.1 495.2L507.8 494.7L524.9 494.7L530.6 486.6L530.6 486.6L536.3 478.3L541.9 478.3L547.6 466.6L553.3 466.6L559 462.5L564.7 462.5L570.4 461.7L576.1 461.7L581.8 455L581.8 455L587.5 444.3L587.5 444.3L593.2 442.1L621.6 442.1L627.3 440.9L661.5 440.9L667.2 440.7L690 440.7L695.7 440.6L695.7 440.6L701.4 440.2L712.7 440.2L718.4 438.8L735.5 438.8L741.2 433.6L764 433.6L769.7 432L820.9 432L826.6 430.6L826.6 430.6"/>
<path d="M217.446 641L228.8 641L234.5 626L263 626L268.7 621L274.4 621L280.1 620.2L280.1 620.2L285.8 617L297.1 617L302.8 617L302.8 617L308.5 612.2L308.5 612.2L314.2 612L319.9 612L325.6 611.3L325.6 611.3L331.3 605.7L376.9 605.7L382.5 596.7L382.5 596.7L388.2 594.7L393.9 594.7L399.6 583.1L473.6 583.1L479.3 578.5L479.3 578.5L485 556.8L490.7 556.8L496.4 556.5L513.5 556.5L519.2 521.1L524.9 521.1L530.6 513.2L530.6 513.2L536.3 511.5L564.7 511.5L570.4 508.2L570.4 508.2L576.1 495.9L627.3 495.9L633 495.5L638.7 495.5L644.4 471.3L644.4 471.3L650.1 470.1L655.8 470.1L661.5 467.2L678.6 467.2L684.3 467L769.7 467L775.4 465.3L775.4 465.3L781.1 450.5L803.8 450.5L809.5 450.1L826.6 450.1"/>
<path d="M217.446 641L245.9 641L251.6 640.5L263 640.5L268.7 640.4L337 640.4L342.7 640.3L382.5 640.3L388.2 634.2L399.6 634.2L405.3 633.8L411 633.8L416.7 612.1L416.7 612.1L422.4 573.6L439.5 573.6L445.2 572.7L462.2 572.7L467.9 526.9L467.9 526.9L473.6 517.7L536.3 517.7L541.9 517.7L610.3 517.7L616 515.6L638.7 515.6L644.4 514.1L644.4 514.1L650.1 513L650.1 513L655.8 512.9L678.6 512.9L684.3 512.3L684.3 512.3L690 512.3L690 512.3L695.7 510.8L701.4 510.8L707 509.3L741.2 509.3L746.9 508.9L746.9 508.9L752.6 502.1L752.6 502.1L758.3 496.8L798.1 496.8L803.8 495.7L826.6 495.7"/>
<path d="M217.446 641L240.2 641L245.9 625.5L251.6 625.5L257.3 624.4L263 624.4L268.7 623.7L314.2 623.7L319.9 619.3L319.9 619.3L325.6 617.2L325.6 617.2L331.3 606.7L337 606.7L342.7 598L359.8 598L365.5 598L416.7 598L422.4 595.9L445.2 595.9L450.9 581.9L485 581.9L490.7 575.7L496.4 575.7L502.1 558.1L502.1 558.1L507.8 549.9L536.3 549.9L541.9 549.1L541.9 549.1L547.6 533.1L564.7 533.1L570.4 471L576.1 471L581.8 470.5L581.8 470.5L587.5 460.6L593.2 460.6L598.9 451.5L616 451.5L621.6 443.9L621.6 443.9L627.3 438.9L633 438.9L638.7 434.3L667.2 434.3L672.9 395.7L712.7 395.7L718.4 385.9L735.5 385.9L741.2 384.2L752.6 384.2L758.3 378.1L769.7 378.1L775.4 374.8L826.6 374.8"/>
<path d="M217.446 641L302.8 641L308.5 635.9L325.6 635.9L331.3 631L331.3 631L337 629L348.4 629L354.1 628.8L354.1 628.8L359.8 626.3L376.9 626.3L382.5 622.3L393.9 622.3L399.6 621L399.6 621L405.3 600L411 600L416.7 599.9L445.2 599.9L450.9 597.7L473.6 597.7L479.3 597.3L485 597.3L490.7 586.2L490.7 586.2L496.4 585.8L496.4 585.8L502.1 570.7L502.1 570.7L507.8 563.9L507.8 563.9L513.5 555.1L638.7 555.1L644.4 543.2L650.1 543.2L655.8 542.8L661.5 542.8L667.2 531L690 531L695.7 529L701.4 529L707 527.3L707 527.3L712.7 522.4L712.7 522.4L718.4 512.8L724.1 512.8L729.8 507.2L729.8 507.2L735.5 505.5L741.2 505.5L746.9 486.5L758.3 486.5L764 486.5L764 486.5L769.7 486.1L769.7 486.1L775.4 485.6L803.8 485.6L809.5 484.4L809.5 484.4L815.2 482.8L826.6 482.8"/>
<path d="M217.446 641L234.5 641L240.2 637.3L274.4 637.3L280.1 636.8L280.1 636.8L285.8 630.5L319.9 630.5L325.6 617.4L348.4 617.4L354.1 601.8L359.8 601.8L365.5 601L456.6 601L462.2 587.7L467.9 587.7L473.6 585.7L530.6 585.7L536.3 584.2L598.9 584.2L604.6 528.5L644.4 528.5L650.1 506.4L650.1 506.4L655.8 506.3L667.2 506.3L672.9 497.2L672.9 497.2L678.6 493.1L690 493.1L695.7 491.5L695.7 491.5L701.4 488.9L820.9 488.9L826.6 488.7L826.6 488.7"/>
<path d="M217.446 641L251.6 641L257.3 638.6L263 638.6L268.7 634.8L274.4 634.8L280.1 633.7L285.8 633.7L291.5 631.3L297.1 631.3L302.8 622.8L325.6 622.8L331.3 622.5L371.2 622.5L376.9 617L382.5 617L388.2 614.7L388.2 614.7L393.9 611.7L393.9 611.7L399.6 607.9L405.3 607.9L411 606.1L439.5 606.1L445.2 594.4L473.6 594.4L479.3 594.1L485 594.1L490.7 591.4L502.1 591.4L507.8 588.3L524.9 588.3L530.6 586.6L536.3 586.6L541.9 558.6L553.3 558.6L559 543.9L559 543.9L564.7 511.4L581.8 511.4L587.5 510.6L598.9 510.6L604.6 509.4L616 509.4L621.6 507.2L627.3 507.2L633 502.5L707 502.5L712.7 494.1L741.2 494.1L746.9 487.2L781.1 487.2L786.7 480.5L803.8 480.5L809.5 480.5L809.5 480.5L815.2 480.5L826.6 480.5"/>
<path d="M217.446 641L337 641L342.7 629.3L371.2 629.3L376.9 622.8L376.9 622.8L382.5 618.6L399.6 618.6L405.3 618L411 618L416.7 615.3L422.4 615.3L428.1 613.8L456.6 613.8L462.2 600.8L479.3 600.8L485 591.9L490.7 591.9L496.4 591.7L507.8 591.7L513.5 591.6L547.6 591.6L553.3 591.1L559 591.1L564.7 561.5L570.4 561.5L576.1 550.8L587.5 550.8L593.2 499L627.3 499L633 491.1L650.1 491.1L655.8 489.7L741.2 489.7L746.9 486.5L752.6 486.5L758.3 464L769.7 464L775.4 461L792.4 461L798.1 460.3L826.6 460.3"/>
<path d="M217.446 641L217.4 641L223.1 637.4L251.6 637.4L257.3 636.1L257.3 636.1L263 612.3L285.8 612.3L291.5 611.5L308.5 611.5L314.2 604.2L342.7 604.2L348.4 604L393.9 604L399.6 576.3L405.3 576.3L411 569.7L428.1 569.7L433.8 568.5L450.9 568.5L456.6 548.1L462.2 548.1L467.9 519.9L467.9 519.9L473.6 519.1L490.7 519.1L496.4 491.1L507.8 491.1L513.5 445.4L513.5 445.4L519.2 441.9L524.9 441.9L530.6 424.7L564.7 424.7L570.4 413.6L581.8 413.6L587.5 407.9L621.6 407.9L627.3 405.7L638.7 405.7L644.4 404.4L661.5 404.4L667.2 396.6L667.2 396.6L672.9 390.1L678.6 390.1L684.3 376.4L741.2 376.4L746.9 376.3L746.9 376.3L752.6 374.5L752.6 374.5L758.3 371.7L758.3 371.7L764 371.4L798.1 371.4L803.8 371.3L826.6 371.3"/>
<path d="M217.446 641L388.2 641L393.9 634.5L393.9 634.5L399.6 634.3L411 634.3L416.7 624.8L422.4 624.8L428.1 590.5L428.1 590.5L433.8 587.3L473.6 587.3L479.3 585L490.7 585L496.4 570.6L519.2 570.6L524.9 568.1L530.6 568.1L536.3 567.3L553.3 567.3L559 566.9L564.7 566.9L570.4 555.6L576.1 555.6L581.8 526.4L581.8 526.4L587.5 509L593.2 509L598.9 500.7L598.9 500.7L604.6 476.6L610.3 476.6L616 457L621.6 457L627.3 455.3L667.2 455.3L672.9 453.2L684.3 453.2L690 427.9L718.4 427.9L724.1 413.3L758.3 413.3L764 410.2L775.4 410.2L781.1 407.3L798.1 407.3L803.8 406.5L809.5 406.5L815.2 406.3L826.6 406.3"/>
<path d="M217.446 641L331.3 641L337 637.3L342.7 637.3L348.4 630.7L348.4 630.7L354.1 627.8L354.1 627.8L359.8 626.1L388.2 626.1L393.9 623.9L399.6 623.9L405.3 622.2L416.7 622.2L422.4 609.2L433.8 609.2L439.5 608.7L445.2 608.7L450.9 607.9L450.9 607.9L456.6 600.7L462.2 600.7L467.9 517.1L479.3 517.1L485 497.1L502.1 497.1L507.8 484.3L530.6 484.3L536.3 468.8L541.9 468.8L547.6 467.4L587.5 467.4L593.2 462.4L593.2 462.4L598.9 462.3L598.9 462.3L604.6 457.6L604.6 457.6L610.3 457.5L667.2 457.5L672.9 457.2L707 457.2L712.7 457L712.7 457L718.4 456L735.5 456L741.2 454.6L803.8 454.6L809.5 454.2L826.6 454.2"/>
</g>
<g id="grid" stroke="#a9a9a9" stroke-width="1.4" fill="none">
<path d="M214.5 88H830M214.5 167H830M214.5 246H830M214.5 325H830M214.5 404H830M214.5 483H830M214.5 562H830"/>
</g>
<g id="brown" stroke="#a0501e" stroke-width="1.7" fill="none" stroke-linejoin="round">
<path d="M216.7 640L223.3 633.3L231.7 632.5L235 630.8L243.3 630L251.7 625.8L260 625L268.3 624.2L271.7 621.7L316.7 621.7L326.7 615L331.7 608.3L336.7 605.6L359.4 605L365 598L370.6 595.8L376.1 595.8L378.9 582L390 579.9L405 579.9L409.2 576.4L425.8 575.7L428.6 572.2L463.3 570.8L468.9 568L477.8 566.1L508.9 558.3L516.7 542.8L547.8 541.8L553.6 536L650 535.6L661.7 535L667.5 531.2L827 531.2"/>
<path d="M270 640L273 618.9L316 618.7L340 618L347 615.3L351 613.9L353.9 600L359.4 597.2L380 597L386.9 597.2L400.8 596.5L406.4 583.3L435.6 582.6L449.4 583.3L470 583.6L479.7 577.8L495.3 576.8L508.9 574.9L528.3 571.9L545.8 567.1L582.8 566.1L650 565.1L670 565L678.3 562.5L706.7 561.7L713.3 557.5L736.7 556.7L741.7 550L756.7 548.3L768.3 544.2L827 543.5"/>
<path d="M241.7 640L245 630.8L258.3 630L261.7 628.3L316.7 627.5L340 627L343 620L380 614.6L398 613.9L402.2 609.7L435.6 609.7L441.1 605.6L445.3 594.4L457.8 588.9L480 587.5L489.4 587.5L536.1 586.5L541.9 573.9L575 572.9L582.8 567.1L606.1 569L650 569L768.3 568.3L773.3 565L783.3 546.7L796.7 539.7L827 539.2"/>
<path d="M216.7 640L220 636.7L243.3 635.8L285 635L291.7 631.7L316.7 630.8L392 630L400.8 602.8L403.6 595.8L442.5 594.4L445.3 590.3L457.8 588.9L470 588.5L485.6 585.5"/>
<path d="M310 640L326.7 633.3L343.3 620L346.7 615L350 613.3L380 613.2L384.2 600L386.9 597.2L400 597L420 596L440 580L470 571.9L508.9 568.1L528.3 564.2L536.1 546.7L650 545.7L706.7 544.2L711.7 542.5L730.8 541.7L735.8 533.3L746.7 532.5L827 531.7"/>
<path d="M350 640L360 632L400 631L414 619.4L430 600L450 585L470 576.8L475.8 573.9L489.4 571L508.9 570L524.4 569L536.1 568.1L541.9 562.2L563.3 560.3L573.1 552.5L576 546.7L621.7 544.7L627.5 538.9L650 538.5L686.7 535.8L691.7 533.3L696.7 531.7L827 531.5"/>
<path d="M380 633.3L445.3 633.3L448.1 631.9L449.4 611.1L453.6 608.3L463.3 607.6L470 606L499.2 605L506.9 591.4L536.1 590.4L540 577.8L551.7 576.8L575 575L578.9 573.9L600 573L610 566.1L640 563.3L686.7 563L690 561.7L753.3 560.8L756.7 548.3L768 546L827 545.5"/>
<path d="M400 640L420 636L445 633L470 616.7L493.3 615.7L551.7 613.75L561.4 610.8L571.1 601.1L650 599.2L656.7 596.7L666.7 595.8L667.5 593.3L669.2 566.7L671.7 549.2L827 549.2"/>
<path d="M440 640L460 625L499.2 606L538 605L547.8 601.1L553.6 587.5L571.1 586.5L600 586L640 585L646.7 581.7L650 578.3L656.7 577.5L661.7 573.3L670 568.3L678.3 562.5L700 562L768 545L827 544.5"/>
</g>
<g id="brownT" stroke="#a0501e" stroke-width="3.2" fill="none" stroke-linejoin="round">
<path d="M667.5 531.2L827 531.2"/>
<path d="M768 544.8L827 544.8"/>
</g>
<g id="brownM" stroke="#a0501e" stroke-width="2.6" fill="none" stroke-linejoin="round">
<path d="M485.6 585.5L538 584.6L650 585.2L678.3 585.8L684.2 579.2L740 578.7L827 578"/>
</g>
<g id="green" stroke="#167a16" stroke-width="2.05" fill="none" stroke-linejoin="round">
<path d="M827 124.2L747.5 124.2L741.2 126.2L650.5 126.2L644.2 169.2L605 169.2L599.5 173.8L577 174.5L571.2 224.2L537 224.2L531.2 260"/>
<path d="M827 204.6L816.3 208.5L810.8 226.4L724.3 226.4L718.9 235.7L717.5 260L714.6 318.3"/>
<path d="M700 251.8L704.3 250.9L707.4 240L708.8 237.8L827 237.6"/>
<path d="M827 226L821.5 248.3L819 271.7L816.7 285.3L810.8 296L741.8 297.5"/>
<path d="M797.2 300.8L800.1 275.6L803.1 240.6L805 238.6L808.9 237.8"/>
<path d="M803.4 248.1L827 248.1"/>
<path d="M827 252.2L822.5 268.8L816.7 273.2L752.5 273.2L744.7 274.6L736 275.6L731.1 287.2L724.3 291.1L722.2 318.9L719.2 357.8L716.3 371.4L714.2 404.5"/>
<path d="M827 268.4L821.5 269.1L816.7 271.7L752.5 272.2L737.9 275.2L733.1 283.3L729.2 289.2L723.3 296L700 296.6"/>
<path d="M827 300.2L701 300.2L700 318.3"/>
<path d="M797.2 297.9L786.5 298.9L775.8 318.3L764.2 318.3L762.2 333.9L758.3 348.5L741.8 350.4"/>
<path d="M700 318.3L764.2 317.8L785.6 317.8L791.4 315.4L795.3 306.7L797.2 298.9"/>
<path d="M785.6 300.2L741.8 300.8L741.2 324.2"/>
<path d="M707.1 239.7L704.2 251L695.4 252.4L694.4 268.9L690.9 297.1L632.2 297.5"/>
<path d="M676 297.3L710 297.3"/>
<path d="M710 299.4L702.2 299.6L699.3 321.4"/>
<path d="M710 319.4L655.6 319.4L653.6 327.2"/>
<path d="M672.1 297.1L669.2 311.7L665.3 315.6L655.6 317.5L643.9 320.4L622.5 321.4"/>
<path d="M632.2 297.1L628.3 301L625.4 311.7L621.5 323.3"/>
<path d="M560 341.5L569.7 341.5L576 334.6L619.7 334.6L621.8 322.8L623.9 320"/>
<path d="M560 357.5L615.6 357.5L622.5 353.3L644.7 353.3L648.9 340.8L655.8 337.4L660 337.4"/>
<path d="M623.2 320L619.7 334.6L616.9 351.2L605.8 352.6L598.9 354L593.3 364.4L587.8 365.1L581.5 372.8L570.4 374.2L560 379"/>
<path d="M560 376.2L639.2 376.2L643.3 373.5L646.8 354.7L650.3 338.1L654.4 321.4L657.2 320"/>
<path d="M604.4 354L602.4 365.8L600.3 378.3L598.2 382.5L582.2 383.2L573.9 393.6L569.7 395L562.8 406.1L560 406.8"/>
<path d="M660 395L655.8 395L648.9 397.1L637.8 397.8L632.9 400.6L580.8 401.2L576.7 408.9L573.9 413.1L569.7 414.4L567.6 420"/>
<path d="M660 407.5L615.6 408.5L589.2 408.5L585 411.7L580.8 420"/>
<path d="M650 339.7L655.6 338.1L683.3 337.8L687.5 335.6L695.8 335L698.6 320"/>
<path d="M650 397.1L655.6 395.7L668.1 395L672.9 395L678.5 376.2L713.9 375.6L716.7 372.8L723.6 365.8L736.1 365.1L740.3 351.2L750 349.9"/>
<path d="M650 408.2L662.5 407.5L666.7 404.7L712.5 404.4L715.3 374.2L719.4 347.8L721.5 320"/>
<path d="M741 320L738.9 351.9L736.8 365.8L736.1 408.9L733.3 415.8L727.8 420"/>
<path d="M736.8 400L736.1 408.3L733.3 413.9L725 422.2L719.4 432.6L711.8 433.3L709.7 466.7L704.9 500"/>
<path d="M706.2 490L702.1 512.9L690.3 513.6L684 521.7L650 521.9"/>
<path d="M510.3 320L508.2 347.1L496.4 347.8L494.3 389.4L492.2 420"/>
<path d="M570 340.8L558.9 341.5L553.3 344.3L547.8 345L542.2 352.6L535.3 353.3L531.1 358.9L524.2 359.6L518.6 365.1L508.9 365.8L501.9 368.9L485.3 369.3L483.2 389.4L481.1 420"/>
<path d="M570 357.5L490.8 357.5L488.1 364.4L485.3 369.3"/>
<path d="M570 333.9L565.8 364.4L558.9 365.1L553.3 376.9L525.6 377.2L521.4 382.5L503.3 384.6L496.4 394.3L479.7 395L478.3 410.3L470 411.7"/>
<path d="M570 373.5L564.4 376.2L558.9 379.7L547.8 400.6L542.2 412.4L522.8 413.1L517.2 417.2L511.7 420"/>
<path d="M525.6 377.2L522.8 389.4L520 415.8L517.2 420"/>
<path d="M570 376.2L560.3 377.6L525.6 377.6"/>
<path d="M570 403.3L567.2 406.1L560.3 406.8L556.1 415.8L553.3 420"/>
<path d="M479.7 395L478.3 420"/>
<path d="M481.8 400L480.4 420.8L479 445.8L474.9 461.1L473.5 488.9L470 497.2"/>
<path d="M478.3 400L479 445.8"/>
<path d="M492.2 400L490.8 437.5L481.1 439.6"/>
<path d="M522.1 400L519.3 413.9L515.8 418.8L483.9 419.4L480.4 420.8"/>
<path d="M547.1 400L542.2 413.2L519.3 413.5"/>
<path d="M570 405.6L560.3 406.2L554.7 420.8L542.2 422.9L535.3 436.1L530.4 441.7L525.6 458.3L520 479.2L483.9 483.3L476.9 487.5L472.8 494.4"/>
<path d="M570 416.7L565.8 434L553.3 435.4L536.7 435.8L531.1 441L526.9 455.6L521.4 477.8L518.6 500"/>
<path d="M570 434L550.6 436.4L547.1 441.7L542.9 490.3L540.8 495.8L535.3 495.8L534.6 500"/>
<path d="M470 411.1L476.9 410.4L478.3 400"/>
<path d="M470 431.2L475.6 427.8L477.6 413.9"/>
<path d="M470 451.4L473.5 450.7L475.6 434.7"/>
<path d="M400.8 480L405.7 446L422.4 445.6L428.6 440.8L450.1 440.4L456.4 411.9L477.2 411.2L479.3 393.9"/>
<path d="M431.4 480L435.6 466.1L439.7 432.1L468.9 431.4L474.4 428.6L477.2 424.4L479.3 407.8"/>
<path d="M460.6 480L461.9 452.9L473.1 451.5L475.1 435.6"/>
<path d="M479.3 393.9L477.2 435.6L474.4 457.8L472.4 480"/>
<path d="M402.2 470L400.8 483.9L393.9 485.3L391.1 533.9L385.6 570"/>
<path d="M434.9 470L432.8 478.3L428.6 489.4L416.8 490.1L413.3 513.1L405.7 514.4L396.7 531.1L388.3 534.6L382.8 570"/>
<path d="M480 486.7L468.9 490.8L449.4 495L431.4 498.5L421.7 501.9L417.5 511.7L409.2 531.1L389.7 533.2"/>
<path d="M460.6 470L459.2 515.8L456.4 526.9L445.3 527.6L441.1 542.2L434.2 554.7L413.3 560.3L385.6 562.4L380 567.2"/>
<path d="M472.4 470L470.3 490.8L466.1 506.1L461.9 515.8L439.7 517.2L437.6 536.7L433.5 549.2L407.8 551.2L382.8 553.3L380 570"/>
<path d="M468.9 503.3L446.7 510.3L428.6 514.4L427.2 547.8L425.8 570"/>
<path d="M477.2 470L474.4 488.1L470.3 497.8L466.1 511.7L463.3 539.4L457.8 570"/>
<path d="M480 538.1L463.3 538.8L461.9 547.8"/>
<path d="M480 561.7L463.3 563.1L441.1 565.8L439.7 570"/>
<path d="M571.7 220L571 224.2L536.2 224.9L530.7 272.8L513.3 273.1L509.9 320"/>
<path d="M300 599.7L311.7 597.8L323.3 592.9L331.1 591L333.1 582.2L358.3 581.2L362.2 570.6L377.8 566.7L381.7 553.1L385.6 554L389.4 535.6L391.4 520"/>
<path d="M331.1 591L331.1 581.2L358.3 580.3"/>
<path d="M333.1 587.1L356.4 588.1L360.3 584.2"/>
<path d="M319.4 628.9L325.3 605.6L329.2 593.9L331.1 582.2"/>
<path d="M325.3 632.8L329.2 617.2L333.1 595.8L334 588.1"/>
<path d="M336.9 636.7L338.9 613.3L340.8 595.8L358.3 593.9L364.2 568.6L377.8 565.7L381.7 558.9"/>
<path d="M368.1 636.7L369 597.8L377.8 596.8L379.7 568.6L383.6 555L387.5 551.1L389.4 535.6"/>
<path d="M389.4 534.6L408.9 531.7L412.8 520"/>
<path d="M385.6 554L403.1 551.1L424.4 550.1L434.2 548.2L440 543.3"/>
<path d="M381.7 558.9L408.9 561.8L424.4 560.8L426.4 539.4L428.3 520"/>
<path d="M385.6 566.7L416.7 566.7L440 564.7"/>
<path d="M397.2 622.1L410.8 621.1L412.8 597.8L420.6 596.8L424.4 570.6L440 568.6"/>
<path d="M432.2 603.6L434.2 588.1L440 586.1"/>
<path d="M380 579.9L382.8 575L384.2 563.2L413.3 562.5L417.5 559.7L432.8 558.3L438.3 550"/>
<path d="M425.8 550L424.4 573.6L423.8 598.6L421.7 605.6L417.5 608.3L413.3 619.4L409.2 622.2L380 621.5"/>
<path d="M380 574.3L424.4 573.6"/>
<path d="M463.3 550L461.9 555.6L457.8 562.5L441.1 565.3L438.3 570.8L436.2 595.8L434.2 604.9L418.9 605.6L413.3 616.7"/>
<path d="M480 563.9L473.1 565.3L468.9 570.8L455 575L449.4 577.8L448.1 586.1L443.9 597.2L432.8 598.6L427.2 600L421.7 605.6L417.5 608.3L414.7 619.4L406.4 633.3L405 638.9"/>
<path d="M470 573.9L479.7 574.9L489.4 572.9L495.3 570L514.7 569L518.6 553.5L534.2 552.5L561.4 551.5L576 550.6L581.8 535L625.6 533.1L633.3 521.8L650.1 521.4"/>
<path d="M470 538.9L501.1 538.9L518.6 537.9L522.5 522.4L532.2 520.4L536.1 500"/>
<path d="M518.6 500L516.7 525.3L513.8 530.1L506.9 532.1L499.2 538.9L494.3 541.8L490.4 562.2L470 567.1"/>
<path d="M270 640L274.2 615.8L291.7 615L296.7 601.7L305 600L310 597.5L315 597.5L325 590.8L330 589.2L350 588.3"/>
<path d="M330.8 589.2L330.8 580L350 580"/>
<path d="M300 640L303.3 628.3L308.3 625L318.3 623.3L323.3 618.3L326.7 590"/>
<path d="M316.7 640L320 626.7L325 620L330 590"/>
<path d="M333.3 640L336.7 621.7L341.7 595L343.3 590L350 588.3"/>
<path d="M343.3 640L345 626.7L348.3 620L350 618.3"/>
<path d="M570 434.4L576.25 434.2L581.7 420"/>
</g>
<g id="greenT" stroke="#167a16" stroke-width="2.8" fill="none" stroke-linejoin="round">
<path d="M827 94.2L788.8 94.2L775 107.5L736.2 107.5L730 145L713 145L708 230"/>
<path d="M708.1 230L707.1 245.6L705.7 257.2L702.2 265L694.4 268.9L686.7 284.4L680.8 292.2L676 295.1L632.2 296.1L628.3 301.9L622.5 311.7L615.7 315.6L606.9 317.5L593.3 318.5"/>
<path d="M592.6 320L589.2 330.4L571.1 331.8L565.6 364.4L560 364.7"/>
</g>
<path id="red" d="M217.4 640.5L373.9 640.2L374.9 630.8L397.2 629.9L408.9 628.9L424.4 626L431.7 626.5L439.4 618.75L462.8 617.8L470.6 614.9L474.4 612.9L479.3 599.3L498.75 598.3L501.7 595.4L507.5 589.6L530.8 587.6L534.7 570.1L536.7 553.6L560 552.6L633.3 552.5L639.2 538.9L650 537.9L663.9 535.8L686.1 535.6L695.8 535.1L698.6 530.3L702.1 523.3L736.1 522.6L741.7 512.2L745.8 507.8L774.9 506.9L779.7 499.2L785.6 477.8L789.4 460.3L792.4 446.7L799.2 441.2L827 440.8" stroke="#e6241a" stroke-width="2.1" fill="none" stroke-linejoin="round"/>
<path d="M374.9 630.6L397.2 629.9L411.9 629.6" stroke="#d83018" stroke-width="3.4" fill="none"/>
<path id="blue" d="M217.4 640L428.75 639.5L440.4 622.6L491 622.6L496.8 614.9L542.5 614.9" stroke="#0a0ad0" stroke-width="2.6" fill="none" stroke-linejoin="round"/>
<path id="black" d="M217.4 641L245 640.8L265 640.2L282 639L300 636.7L312 634.7L327 630.8L345 623.1L364 613.3L384 601.7L405 590L424 578.3L440 569.6L463 557.5L480 546L500 534L520 522.5L540 511L560 500L580 489.5L597 480L628 464.4L657.5 450.8L687 438.2L710 430.4L733 425L750 420.8L790 410.5L827 402" stroke="#000" stroke-width="2.3" fill="none" stroke-linejoin="round"/>
<g id="axes" stroke="#a9a9a9" stroke-width="1.4" fill="none">
<path d="M214.5 88V641H830"/>
<path stroke-width="1" d="M214.6 641v4M254.5 641v4M294.3 641v4M334.2 641v4M374.0 641v4M413.9 641v4M453.7 641v4M493.6 641v4M533.4 641v4M573.3 641v4M613.1 641v4M653.0 641v4M692.8 641v4M732.7 641v4M772.5 641v4M812.4 641v4M210.5 88.5h4M210.5 167.5h4M210.5 246.5h4M210.5 325.5h4M210.5 404.5h4M210.5 483.5h4M210.5 562.5h4M210.5 641.5h4"/>
</g>
<g id="ylabels" font-size="10" font-weight="bold" text-anchor="end" fill="#000">
<text x="207.5" y="92">14</text><text x="207.5" y="171">12</text><text x="207.5" y="250">10</text><text x="207.5" y="329">8</text><text x="207.5" y="408">6</text><text x="207.5" y="487">4</text><text x="207.5" y="566">2</text><text x="207.5" y="645">0</text>
</g>
<g id="xlabels" font-size="10" font-weight="bold" text-anchor="middle" fill="#000">
<text x="218.0" y="656">6/15</text><text x="257.9" y="656">6/22</text><text x="297.7" y="656">6/29</text><text x="337.6" y="656">7/6</text><text x="377.5" y="656">7/13</text><text x="417.3" y="656">7/20</text><text x="457.2" y="656">7/27</text><text x="497.0" y="656">8/3</text><text x="536.9" y="656">8/10</text><text x="576.7" y="656">8/17</text><text x="616.6" y="656">8/24</text><text x="656.4" y="656">8/31</text><text x="696.3" y="656">9/7</text><text x="736.1" y="656">9/14</text><text x="776.0" y="656">9/21</text><text x="815.8" y="656">9/28</text>
</g>
<text transform="translate(175,362) rotate(-90)" font-size="14.2" font-weight="bold" text-anchor="middle" fill="#000">Rainfall (inches)</text>
<g font-weight="bold" text-anchor="middle">
<g fill="#167a16" font-size="11.9"><text x="717" y="85.5">Wettest monsoon</text><text x="717.5" y="99.5">13.64” in 1964</text></g>
<path d="M766.5 86.5L780.5 98M773 97.5L780.5 98L778.5 91" stroke="#167a16" stroke-width="1.2" fill="none"/>
<g fill="#e0140c" font-size="16.2"><text x="744.3" y="443">2019</text><text x="744.8" y="461">5.06”</text></g>
<path d="M766 441.8H798M789.5 436.6L798.4 441.8L789.5 447.6" stroke="#e83c1c" stroke-width="2.1" fill="none"/>
<g fill="#1414b8"><text x="629.5" y="620.5" font-size="12.9">2020: 0.66”</text><text x="631" y="633.5" font-size="11.1">Driest to date</text></g>
<path d="M591.5 622.2L547 616.8M556 612.6L547 616.8L556 623" stroke="#1414c8" stroke-width="1.9" fill="none"/>
<g fill="#a8622a" font-size="11.6"><text x="764.5" y="614">Driest monsoon</text><text x="765.5" y="627.8">1.59” in 1924</text></g>
<path d="M813.7 602.3L816.5 582M812 589L816.5 582L819.5 589.5" stroke="#a0501e" stroke-width="1.2" fill="none"/>
</g>

<g id="nws">
<defs>
<clipPath id="nwsc"><circle cx="194" cy="31.8" r="18"/></clipPath>
<path id="nwsarc" d="M184 49.4A21.4 20.2 0 1 1 207.2 49.4"/>
</defs>
<g clip-path="url(#nwsc)">
<rect x="174" y="12" width="40" height="40" fill="#fff"/>
<path d="M174 12H214V34H174Z" fill="#3f9ee4"/>
<path d="M194 30L182 13M194 30L190 12M194 30L199 12M194 30L207 14M194 30L212 20" stroke="#1d6fc0" stroke-width=".8" fill="none"/>
<path d="M174 41Q178 44 183 42T193 43T204 42T214 41V52H174Z" fill="#5ab0ea"/>
<path d="M174 45Q180 43 186 45T198 45T214 44" stroke="#fff" stroke-width=".8" fill="none"/>
</g>
<circle cx="194" cy="31.8" r="18" fill="none" stroke="#1a5fb0" stroke-width=".7"/>
<path d="M173.8 33Q172.5 27 179 26.5Q181 22 186 23Q189 19 194 21Q199 18 203 22Q208 21.5 209.5 26Q215.5 26.5 215.2 31Q215 35.5 209 36Q207 40 202 38.5Q199 41.5 195 39.5Q191 42 187 39.5Q182 40.5 180.5 37Q175.5 37.5 174.5 33Z" fill="#1414b4"/>

<path d="M179.5 15.5L190 23L188 26.5L196 32L194 35L206.5 46L198 36.5L200.5 33.5L193 27.5L195 24.5Z" fill="#fff" stroke="#1a1a8a" stroke-width=".5"/>
<text font-size="7.5" font-weight="bold" fill="#e8201c" stroke="#e8201c" stroke-width=".3"><textPath href="#nwsarc" textLength="107" lengthAdjust="spacingAndGlyphs">NATIONAL WEATHER SERVICE</textPath></text>
<circle cx="186.8" cy="55" r=".9" fill="#1a1a8a"/><circle cx="200.4" cy="55" r=".9" fill="#1a1a8a"/>
<text x="193.6" y="58.3" font-size="6.5" text-anchor="middle" fill="#e8201c">★</text>
</g>
<g id="noaa">
<defs>
<clipPath id="noaac"><circle cx="1088.8" cy="31.6" r="24.2"/></clipPath>
<path id="noaat" d="M1064.2 38A25.4 25.4 0 1 1 1113.4 38"/>
<path id="noaab" d="M1061.6 40.5A28.4 28.4 0 0 0 1116 40.5"/>
</defs>
<circle cx="1088.8" cy="31.6" r="28.6" fill="#fff"/>
<g clip-path="url(#noaac)">
<rect x="1064" y="7" width="50" height="50" fill="#1c9be8"/>
<path d="M1060 5H1118V12L1107.8 15.3Q1099 30 1088.8 34.7Q1078 30 1069.4 16.7L1060 14Z" fill="#16168c"/>
<path d="M1063.5 20.5L1069.4 16.2Q1078 29.5 1088.8 34.2Q1099 29.5 1107.8 14.8L1113 18.8Q1104 31 1097 34.6Q1099 34.5 1098.2 35.6Q1090 39 1081 40.3Q1079.5 39.6 1081.5 38.6Q1085 37.8 1087 36.6Q1075 32 1063.5 20.5Z" fill="#fff"/>
</g>
<text x="1088.6" y="22.8" font-size="8.2" font-weight="bold" fill="#fff" text-anchor="middle" textLength="20.5" lengthAdjust="spacingAndGlyphs">NOAA</text>
<text font-size="3" fill="#2a2a9a"><textPath href="#noaat" textLength="93" lengthAdjust="spacingAndGlyphs">NATIONAL OCEANIC AND ATMOSPHERIC ADMINISTRATION</textPath></text>
<text font-size="3" fill="#2a2a9a"><textPath href="#noaab" startOffset="5" textLength="56" lengthAdjust="spacingAndGlyphs">U.S. DEPARTMENT OF COMMERCE</textPath></text>
</g>
</svg>
<div id="panel">
<div class="p1" style="top:87px">The “Haywood plot” on<br>the left shows the<br>accumulated rainfall<br>totals for each monsoon<br>year recorded at the<br>official site in Tucson.</div>
<div class="p1" style="top:265.6px;line-height:25.65px">Haywood plots are useful<br>in tracking current<br>season rainfall compared<br>to the seasonal results<br>from the past.</div>
<div class="lg" style="top:407.3px;color:#000;font-weight:normal;font-size:12px;letter-spacing:1.03px">------------------------------------</div>
<div class="lg" style="top:439px;color:#1a7f1a">Top 10 wettest Monsoon in Green</div>
<div class="lg" style="top:471.2px;color:#a0612b">Top 10 driest Monsoon in Brown</div>
<div class="lg" style="top:503px;color:#000">1981-2010 normal in Black</div>
<div class="lg" style="top:535.2px;color:#0000c0">2020 in Blue</div>
<div class="lg" style="top:554.2px;color:#e00000">2019 in Red</div>
<div class="lg" style="top:586px;color:#a6a6a6">Remaining years in Gray</div>
<div class="lg" style="top:618.8px;color:#000;font-weight:normal;font-size:12px;letter-spacing:1.03px">------------------------------------</div>
<div style="top:649.2px;color:#1a7f1a;font-size:20.4px;line-height:26px;letter-spacing:.4px">2020 total thru 8/11: 0.66”</div>
</div>
<div id="footer">
<svg style="position:absolute;left:0;top:0" width="100" height="33" viewBox="0 687 100 33">
<rect x="8" y="691.5" width="22.5" height="22.5" rx="2.5" fill="#4863a8"/>
<path d="M23.2 714V705.6h2.8l.45-3.3h-3.25v-2.1c0-.95.27-1.6 1.65-1.6h1.75v-2.95c-.3-.04-1.35-.13-2.55-.13-2.55 0-4.25 1.55-4.25 4.35v2.43h-2.85v3.3h2.85V714z" fill="#fff"/>
<rect x="37.5" y="691.5" width="23" height="22.5" rx="2.5" fill="#4aa5ea"/>
<path d="M55.5 698.6c-.5.22-1.05.37-1.6.44.58-.35 1.02-.9 1.23-1.55-.54.32-1.14.55-1.77.68a2.8 2.8 0 0 0-4.8 2.55 7.9 7.9 0 0 1-5.750-2.92 2.800 2.800 0 0 0 .870 3.730c-.46-.01-.89-.14-1.270-.35v.04c0 1.360.960 2.490 2.240 2.750-.41.110-.85.130-1.260.05.350 1.110 1.390 1.920 2.610 1.940a5.620 5.620 0 0 1-4.140 1.160 7.920 7.920 0 0 0 4.290 1.260c5.150 0 7.960-4.260 7.960-7.960l-.01-.36c.55-.4 1.020-.89 1.400-1.460z" fill="#fff"/>
<rect x="67" y="691.500" width="23.500" height="22.500" rx="2.500" fill="#b51c1c"/>
<path d="M75.500 698.300v8.900l7.300-4.450z" fill="#fff"/>
</svg>
<div class="ft" style="left:97px;letter-spacing:-.8px;top:-1.3px">NWSTucson</div>
<div class="ft" style="left:572px;top:.4px">Monsoon 2020</div>
<div class="ft" style="right:17.5px;letter-spacing:.12px;top:-.6px">weather.gov/tucson</div>
</div>
</body></html>
